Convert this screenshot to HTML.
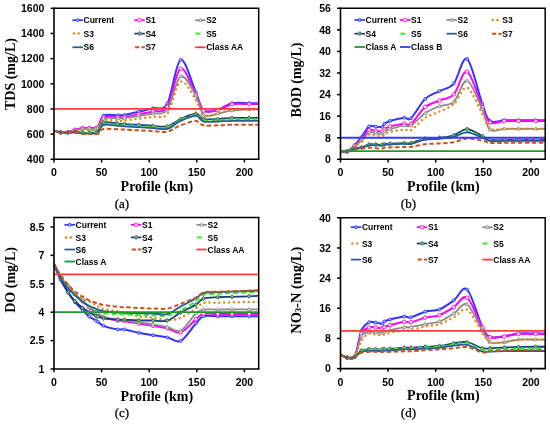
<!DOCTYPE html><html><head><meta charset="utf-8"><style>html,body{margin:0;padding:0;background:#fff;width:550px;height:424px;overflow:hidden}svg{display:block;filter:blur(0.3px)}</style></head><body>
<svg width="550" height="424" viewBox="0 0 550 424">
<rect width="550" height="424" fill="#fff"/>
<clipPath id="clipa"><rect x="54" y="8.3" width="204.7" height="151"/></clipPath>
<g clip-path="url(#clipa)">
<path d="M54,130.61 C55.11,130.9 58.28,132.08 60.66,132.37 C63.04,132.67 65.9,132.79 68.28,132.37 C70.66,131.95 72.57,130.55 74.95,129.86 C77.33,129.16 80.18,128.51 82.56,128.22 C84.94,127.93 87.01,128.11 89.23,128.09 C91.45,128.07 94.46,128.18 95.89,128.09 C97.32,128.01 96.53,129.65 97.8,127.59 C99.07,125.53 100.18,117.82 103.51,115.76 C106.84,113.71 114.3,115.38 117.79,115.26 C121.28,115.13 120.96,115.61 124.45,115.01 C127.95,114.4 133.98,112.72 138.74,111.61 C143.5,110.5 148.26,109.66 153.02,108.34 C157.78,107.02 162.7,111.76 167.3,103.68 C171.9,95.61 175.87,61.76 180.63,59.89 C185.39,58.03 192.05,84.09 195.86,92.48 C199.67,100.87 199.83,107.37 203.48,110.23 C207.13,113.08 213,110.75 217.76,109.6 C222.52,108.44 226.8,104.37 232.04,103.3 C237.28,102.23 244.74,103.2 249.18,103.18 C253.62,103.16 257.11,103.18 258.7,103.18" fill="none" stroke="#3333ff" stroke-width="2.0"/>
<circle cx="60.66" cy="132.37" r="1.45" fill="#a8c8f0" stroke="#3333ff" stroke-width="0.9"/>
<circle cx="68.28" cy="132.37" r="1.45" fill="#a8c8f0" stroke="#3333ff" stroke-width="0.9"/>
<circle cx="74.95" cy="129.86" r="1.45" fill="#a8c8f0" stroke="#3333ff" stroke-width="0.9"/>
<circle cx="82.56" cy="128.22" r="1.45" fill="#a8c8f0" stroke="#3333ff" stroke-width="0.9"/>
<circle cx="89.23" cy="128.09" r="1.45" fill="#a8c8f0" stroke="#3333ff" stroke-width="0.9"/>
<circle cx="95.89" cy="128.09" r="1.45" fill="#a8c8f0" stroke="#3333ff" stroke-width="0.9"/>
<circle cx="97.8" cy="127.59" r="1.45" fill="#a8c8f0" stroke="#3333ff" stroke-width="0.9"/>
<circle cx="103.51" cy="115.76" r="1.45" fill="#a8c8f0" stroke="#3333ff" stroke-width="0.9"/>
<circle cx="117.79" cy="115.26" r="1.45" fill="#a8c8f0" stroke="#3333ff" stroke-width="0.9"/>
<circle cx="124.45" cy="115.01" r="1.45" fill="#a8c8f0" stroke="#3333ff" stroke-width="0.9"/>
<circle cx="138.74" cy="111.61" r="1.45" fill="#a8c8f0" stroke="#3333ff" stroke-width="0.9"/>
<circle cx="153.02" cy="108.34" r="1.45" fill="#a8c8f0" stroke="#3333ff" stroke-width="0.9"/>
<circle cx="167.3" cy="103.68" r="1.45" fill="#a8c8f0" stroke="#3333ff" stroke-width="0.9"/>
<circle cx="180.63" cy="59.89" r="1.45" fill="#a8c8f0" stroke="#3333ff" stroke-width="0.9"/>
<circle cx="195.86" cy="92.48" r="1.45" fill="#a8c8f0" stroke="#3333ff" stroke-width="0.9"/>
<circle cx="203.48" cy="110.23" r="1.45" fill="#a8c8f0" stroke="#3333ff" stroke-width="0.9"/>
<circle cx="217.76" cy="109.6" r="1.45" fill="#a8c8f0" stroke="#3333ff" stroke-width="0.9"/>
<circle cx="232.04" cy="103.3" r="1.45" fill="#a8c8f0" stroke="#3333ff" stroke-width="0.9"/>
<circle cx="249.18" cy="103.18" r="1.45" fill="#a8c8f0" stroke="#3333ff" stroke-width="0.9"/>
<path d="M54,130.61 C55.11,130.9 58.28,132.1 60.66,132.37 C63.04,132.64 65.9,132.67 68.28,132.25 C70.66,131.83 72.57,130.53 74.95,129.86 C77.33,129.18 80.18,128.51 82.56,128.22 C84.94,127.93 87.01,128.11 89.23,128.09 C91.45,128.07 94.46,128.18 95.89,128.09 C97.32,128.01 96.53,129.37 97.8,127.59 C99.07,125.81 100.18,119.16 103.51,117.4 C106.84,115.64 114.3,117.08 117.79,117.02 C121.28,116.96 120.96,117.48 124.45,117.02 C127.95,116.56 133.98,115.2 138.74,114.25 C143.5,113.31 148.26,112.59 153.02,111.36 C157.78,110.12 162.7,113.94 167.3,106.83 C171.9,99.72 175.87,70.73 180.63,68.7 C185.39,66.67 192.05,87.62 195.86,94.62 C199.67,101.63 199.83,108.13 203.48,110.73 C207.13,113.33 213,111.32 217.76,110.23 C222.52,109.13 226.8,105.21 232.04,104.19 C237.28,103.16 244.74,104.08 249.18,104.06 C253.62,104.04 257.11,104.06 258.7,104.06" fill="none" stroke="#ff00ff" stroke-width="2.0"/>
<circle cx="60.66" cy="132.37" r="1.8" fill="#ffffb0" stroke="#ff00ff" stroke-width="0.9"/>
<circle cx="68.28" cy="132.25" r="1.8" fill="#ffffb0" stroke="#ff00ff" stroke-width="0.9"/>
<circle cx="74.95" cy="129.86" r="1.8" fill="#ffffb0" stroke="#ff00ff" stroke-width="0.9"/>
<circle cx="82.56" cy="128.22" r="1.8" fill="#ffffb0" stroke="#ff00ff" stroke-width="0.9"/>
<circle cx="89.23" cy="128.09" r="1.8" fill="#ffffb0" stroke="#ff00ff" stroke-width="0.9"/>
<circle cx="95.89" cy="128.09" r="1.8" fill="#ffffb0" stroke="#ff00ff" stroke-width="0.9"/>
<circle cx="97.8" cy="127.59" r="1.8" fill="#ffffb0" stroke="#ff00ff" stroke-width="0.9"/>
<circle cx="103.51" cy="117.4" r="1.8" fill="#ffffb0" stroke="#ff00ff" stroke-width="0.9"/>
<circle cx="117.79" cy="117.02" r="1.8" fill="#ffffb0" stroke="#ff00ff" stroke-width="0.9"/>
<circle cx="124.45" cy="117.02" r="1.8" fill="#ffffb0" stroke="#ff00ff" stroke-width="0.9"/>
<circle cx="138.74" cy="114.25" r="1.8" fill="#ffffb0" stroke="#ff00ff" stroke-width="0.9"/>
<circle cx="153.02" cy="111.36" r="1.8" fill="#ffffb0" stroke="#ff00ff" stroke-width="0.9"/>
<circle cx="167.3" cy="106.83" r="1.8" fill="#ffffb0" stroke="#ff00ff" stroke-width="0.9"/>
<circle cx="180.63" cy="68.7" r="1.8" fill="#ffffb0" stroke="#ff00ff" stroke-width="0.9"/>
<circle cx="195.86" cy="94.62" r="1.8" fill="#ffffb0" stroke="#ff00ff" stroke-width="0.9"/>
<circle cx="203.48" cy="110.73" r="1.8" fill="#ffffb0" stroke="#ff00ff" stroke-width="0.9"/>
<circle cx="217.76" cy="110.23" r="1.8" fill="#ffffb0" stroke="#ff00ff" stroke-width="0.9"/>
<circle cx="232.04" cy="104.19" r="1.8" fill="#ffffb0" stroke="#ff00ff" stroke-width="0.9"/>
<circle cx="249.18" cy="104.06" r="1.8" fill="#ffffb0" stroke="#ff00ff" stroke-width="0.9"/>
<path d="M54,130.61 C55.11,130.9 58.28,132.08 60.66,132.37 C63.04,132.67 65.9,132.67 68.28,132.37 C70.66,132.08 72.57,131.18 74.95,130.61 C77.33,130.04 80.18,129.25 82.56,128.97 C84.94,128.7 87.01,128.97 89.23,128.97 C91.45,128.97 94.46,129.06 95.89,128.97 C97.32,128.89 96.53,130.17 97.8,128.47 C99.07,126.77 100.18,120.5 103.51,118.78 C106.84,117.06 114.3,118.26 117.79,118.15 C121.28,118.05 120.96,118.53 124.45,118.15 C127.95,117.78 133.98,116.66 138.74,115.89 C143.5,115.11 148.26,114.52 153.02,113.5 C157.78,112.47 162.7,115.89 167.3,109.72 C171.9,103.56 175.87,78.85 180.63,76.5 C185.39,74.15 192.05,89.25 195.86,95.63 C199.67,102 199.83,111.74 203.48,114.76 C207.13,117.78 213,114.46 217.76,113.75 C222.52,113.04 226.8,111.19 232.04,110.48 C237.28,109.76 244.74,109.64 249.18,109.47 C253.62,109.3 257.11,109.47 258.7,109.47" fill="none" stroke="#8c8c8c" stroke-width="1.8"/>
<path d="M60.66,130.37 l1.9,3.2 h-3.8 z" fill="#e8e8e8" stroke="#8c8c8c" stroke-width="0.8"/>
<path d="M68.28,130.37 l1.9,3.2 h-3.8 z" fill="#e8e8e8" stroke="#8c8c8c" stroke-width="0.8"/>
<path d="M74.95,128.61 l1.9,3.2 h-3.8 z" fill="#e8e8e8" stroke="#8c8c8c" stroke-width="0.8"/>
<path d="M82.56,126.97 l1.9,3.2 h-3.8 z" fill="#e8e8e8" stroke="#8c8c8c" stroke-width="0.8"/>
<path d="M89.23,126.97 l1.9,3.2 h-3.8 z" fill="#e8e8e8" stroke="#8c8c8c" stroke-width="0.8"/>
<path d="M95.89,126.97 l1.9,3.2 h-3.8 z" fill="#e8e8e8" stroke="#8c8c8c" stroke-width="0.8"/>
<path d="M97.8,126.47 l1.9,3.2 h-3.8 z" fill="#e8e8e8" stroke="#8c8c8c" stroke-width="0.8"/>
<path d="M103.51,116.78 l1.9,3.2 h-3.8 z" fill="#e8e8e8" stroke="#8c8c8c" stroke-width="0.8"/>
<path d="M117.79,116.15 l1.9,3.2 h-3.8 z" fill="#e8e8e8" stroke="#8c8c8c" stroke-width="0.8"/>
<path d="M124.45,116.15 l1.9,3.2 h-3.8 z" fill="#e8e8e8" stroke="#8c8c8c" stroke-width="0.8"/>
<path d="M138.74,113.89 l1.9,3.2 h-3.8 z" fill="#e8e8e8" stroke="#8c8c8c" stroke-width="0.8"/>
<path d="M153.02,111.5 l1.9,3.2 h-3.8 z" fill="#e8e8e8" stroke="#8c8c8c" stroke-width="0.8"/>
<path d="M167.3,107.72 l1.9,3.2 h-3.8 z" fill="#e8e8e8" stroke="#8c8c8c" stroke-width="0.8"/>
<path d="M180.63,74.5 l1.9,3.2 h-3.8 z" fill="#e8e8e8" stroke="#8c8c8c" stroke-width="0.8"/>
<path d="M195.86,93.63 l1.9,3.2 h-3.8 z" fill="#e8e8e8" stroke="#8c8c8c" stroke-width="0.8"/>
<path d="M203.48,112.76 l1.9,3.2 h-3.8 z" fill="#e8e8e8" stroke="#8c8c8c" stroke-width="0.8"/>
<path d="M217.76,111.75 l1.9,3.2 h-3.8 z" fill="#e8e8e8" stroke="#8c8c8c" stroke-width="0.8"/>
<path d="M232.04,108.48 l1.9,3.2 h-3.8 z" fill="#e8e8e8" stroke="#8c8c8c" stroke-width="0.8"/>
<path d="M249.18,107.47 l1.9,3.2 h-3.8 z" fill="#e8e8e8" stroke="#8c8c8c" stroke-width="0.8"/>
<path d="M54,130.61 C55.11,130.9 58.28,132.06 60.66,132.37 C63.04,132.69 65.9,132.79 68.28,132.5 C70.66,132.2 72.57,131.01 74.95,130.61 C77.33,130.21 80.18,130.19 82.56,130.11 C84.94,130.02 87.01,130.09 89.23,130.11 C91.45,130.13 94.46,130.3 95.89,130.23 C97.32,130.17 96.53,131.39 97.8,129.73 C99.07,128.07 100.18,121.76 103.51,120.29 C106.84,118.82 114.3,120.88 117.79,120.92 C121.28,120.96 120.96,120.92 124.45,120.54 C127.95,120.17 133.98,119.29 138.74,118.66 C143.5,118.03 148.26,117.59 153.02,116.77 C157.78,115.95 162.7,119.58 167.3,113.75 C171.9,107.92 175.87,84.09 180.63,81.79 C185.39,79.48 192.05,94.24 195.86,99.91 C199.67,105.57 199.83,113.45 203.48,115.76 C207.13,118.07 213,114.8 217.76,113.75 C222.52,112.7 226.8,110.18 232.04,109.47 C237.28,108.76 244.74,109.47 249.18,109.47 C253.62,109.47 257.11,109.47 258.7,109.47" fill="none" stroke="#e08a1e" stroke-width="2.5" stroke-linecap="round" stroke-dasharray="0 4.9"/>
<path d="M54,130.61 C55.11,130.9 58.28,132.04 60.66,132.37 C63.04,132.71 65.9,132.75 68.28,132.62 C70.66,132.5 72.57,131.6 74.95,131.62 C77.33,131.64 80.18,132.56 82.56,132.75 C84.94,132.94 87.01,132.75 89.23,132.75 C91.45,132.75 94.46,132.83 95.89,132.75 C97.32,132.67 96.53,133.97 97.8,132.25 C99.07,130.53 100.18,123.86 103.51,122.43 C106.84,121 114.3,123.42 117.79,123.69 C121.28,123.96 120.96,123.88 124.45,124.07 C127.95,124.26 133.98,124.53 138.74,124.82 C143.5,125.12 148.26,125.58 153.02,125.83 C157.78,126.08 162.7,127.46 167.3,126.33 C171.9,125.2 175.87,121.13 180.63,119.03 C185.39,116.94 192.05,113.75 195.86,113.75 C199.67,113.75 199.83,118.15 203.48,119.03 C207.13,119.91 213,119.22 217.76,119.03 C222.52,118.84 226.8,118.09 232.04,117.9 C237.28,117.71 244.74,117.9 249.18,117.9 C253.62,117.9 257.11,117.9 258.7,117.9" fill="none" stroke="#1f3a80" stroke-width="1.8"/>
<path d="M60.66,130.27 l1.7,2.1 l-1.7,2.1 l-1.7,-2.1 z" fill="#9aaa9a" stroke="#2e6a3a" stroke-width="0.9"/>
<path d="M68.28,130.52 l1.7,2.1 l-1.7,2.1 l-1.7,-2.1 z" fill="#9aaa9a" stroke="#2e6a3a" stroke-width="0.9"/>
<path d="M74.95,129.52 l1.7,2.1 l-1.7,2.1 l-1.7,-2.1 z" fill="#9aaa9a" stroke="#2e6a3a" stroke-width="0.9"/>
<path d="M82.56,130.65 l1.7,2.1 l-1.7,2.1 l-1.7,-2.1 z" fill="#9aaa9a" stroke="#2e6a3a" stroke-width="0.9"/>
<path d="M89.23,130.65 l1.7,2.1 l-1.7,2.1 l-1.7,-2.1 z" fill="#9aaa9a" stroke="#2e6a3a" stroke-width="0.9"/>
<path d="M95.89,130.65 l1.7,2.1 l-1.7,2.1 l-1.7,-2.1 z" fill="#9aaa9a" stroke="#2e6a3a" stroke-width="0.9"/>
<path d="M97.8,130.15 l1.7,2.1 l-1.7,2.1 l-1.7,-2.1 z" fill="#9aaa9a" stroke="#2e6a3a" stroke-width="0.9"/>
<path d="M103.51,120.33 l1.7,2.1 l-1.7,2.1 l-1.7,-2.1 z" fill="#9aaa9a" stroke="#2e6a3a" stroke-width="0.9"/>
<path d="M117.79,121.59 l1.7,2.1 l-1.7,2.1 l-1.7,-2.1 z" fill="#9aaa9a" stroke="#2e6a3a" stroke-width="0.9"/>
<path d="M124.45,121.97 l1.7,2.1 l-1.7,2.1 l-1.7,-2.1 z" fill="#9aaa9a" stroke="#2e6a3a" stroke-width="0.9"/>
<path d="M138.74,122.72 l1.7,2.1 l-1.7,2.1 l-1.7,-2.1 z" fill="#9aaa9a" stroke="#2e6a3a" stroke-width="0.9"/>
<path d="M153.02,123.73 l1.7,2.1 l-1.7,2.1 l-1.7,-2.1 z" fill="#9aaa9a" stroke="#2e6a3a" stroke-width="0.9"/>
<path d="M167.3,124.23 l1.7,2.1 l-1.7,2.1 l-1.7,-2.1 z" fill="#9aaa9a" stroke="#2e6a3a" stroke-width="0.9"/>
<path d="M180.63,116.93 l1.7,2.1 l-1.7,2.1 l-1.7,-2.1 z" fill="#9aaa9a" stroke="#2e6a3a" stroke-width="0.9"/>
<path d="M195.86,111.65 l1.7,2.1 l-1.7,2.1 l-1.7,-2.1 z" fill="#9aaa9a" stroke="#2e6a3a" stroke-width="0.9"/>
<path d="M203.48,116.93 l1.7,2.1 l-1.7,2.1 l-1.7,-2.1 z" fill="#9aaa9a" stroke="#2e6a3a" stroke-width="0.9"/>
<path d="M217.76,116.93 l1.7,2.1 l-1.7,2.1 l-1.7,-2.1 z" fill="#9aaa9a" stroke="#2e6a3a" stroke-width="0.9"/>
<path d="M232.04,115.8 l1.7,2.1 l-1.7,2.1 l-1.7,-2.1 z" fill="#9aaa9a" stroke="#2e6a3a" stroke-width="0.9"/>
<path d="M249.18,115.8 l1.7,2.1 l-1.7,2.1 l-1.7,-2.1 z" fill="#9aaa9a" stroke="#2e6a3a" stroke-width="0.9"/>
<path d="M54,130.61 C55.11,130.9 58.28,132.04 60.66,132.37 C63.04,132.71 65.9,132.71 68.28,132.62 C70.66,132.54 72.57,131.81 74.95,131.87 C77.33,131.93 80.18,132.81 82.56,133 C84.94,133.19 87.01,133 89.23,133 C91.45,133 94.46,133.08 95.89,133 C97.32,132.92 96.53,133.99 97.8,132.5 C99.07,131.01 100.18,125.33 103.51,124.07 C106.84,122.81 114.3,124.74 117.79,124.95 C121.28,125.16 120.96,125.14 124.45,125.33 C127.95,125.51 133.98,125.79 138.74,126.08 C143.5,126.37 148.26,126.84 153.02,127.09 C157.78,127.34 162.7,128.76 167.3,127.59 C171.9,126.42 175.87,122.14 180.63,120.04 C185.39,117.94 192.05,114.96 195.86,115.01 C199.67,115.05 199.83,119.41 203.48,120.29 C207.13,121.17 213,120.46 217.76,120.29 C222.52,120.12 226.8,119.45 232.04,119.29 C237.28,119.12 244.74,119.29 249.18,119.29 C253.62,119.29 257.11,119.29 258.7,119.29" fill="none" stroke="#2ef02e" stroke-width="2" stroke-dasharray="5 3"/>
<path d="M54,130.61 C55.11,130.9 58.28,132.02 60.66,132.37 C63.04,132.73 65.9,132.77 68.28,132.75 C70.66,132.73 72.57,132.1 74.95,132.25 C77.33,132.39 80.18,133.4 82.56,133.63 C84.94,133.86 87.01,133.63 89.23,133.63 C91.45,133.63 94.46,133.67 95.89,133.63 C97.32,133.59 96.53,134.8 97.8,133.38 C99.07,131.95 100.18,126.31 103.51,125.07 C106.84,123.84 114.3,125.74 117.79,125.95 C121.28,126.16 120.96,126.14 124.45,126.33 C127.95,126.52 133.98,126.79 138.74,127.09 C143.5,127.38 148.26,127.8 153.02,128.09 C157.78,128.39 162.7,130.04 167.3,128.85 C171.9,127.65 175.87,123.08 180.63,120.92 C185.39,118.76 192.05,115.78 195.86,115.89 C199.67,115.99 199.83,120.61 203.48,121.55 C207.13,122.49 213,121.68 217.76,121.55 C222.52,121.42 226.8,120.92 232.04,120.8 C237.28,120.67 244.74,120.8 249.18,120.8 C253.62,120.8 257.11,120.8 258.7,120.8" fill="none" stroke="#2d5a96" stroke-width="1.8"/>
<path d="M54,130.61 C55.11,130.9 58.28,131.99 60.66,132.37 C63.04,132.75 65.9,132.83 68.28,132.88 C70.66,132.92 72.57,132.43 74.95,132.62 C77.33,132.81 80.18,133.78 82.56,134.01 C84.94,134.24 87.01,134.01 89.23,134.01 C91.45,134.01 94.46,134.05 95.89,134.01 C97.32,133.97 96.53,134.59 97.8,133.76 C99.07,132.92 100.18,129.71 103.51,128.97 C106.84,128.24 114.3,129.25 117.79,129.35 C121.28,129.46 120.96,129.44 124.45,129.6 C127.95,129.77 133.98,130.13 138.74,130.36 C143.5,130.59 148.26,130.78 153.02,130.99 C157.78,131.2 162.7,132.56 167.3,131.62 C171.9,130.67 175.87,127.09 180.63,125.33 C185.39,123.56 192.05,121.05 195.86,121.05 C199.67,121.05 199.83,124.61 203.48,125.33 C207.13,126.04 213,125.43 217.76,125.33 C222.52,125.22 226.8,124.8 232.04,124.7 C237.28,124.59 244.74,124.7 249.18,124.7 C253.62,124.7 257.11,124.7 258.7,124.7" fill="none" stroke="#c8561a" stroke-width="2" stroke-dasharray="4.4 2.5"/>
<line x1="54" y1="108.97" x2="258.7" y2="108.97" stroke="#ff3b3b" stroke-width="1.8"/>
</g>
<path d="M54,8.3 H258.7 V159.3" fill="none" stroke="#000" stroke-width="1.5"/>
<path d="M54,7.5 V159.3 H259.5" fill="none" stroke="#000" stroke-width="1.6"/>
<line x1="50.5" y1="159.3" x2="54" y2="159.3" stroke="#000" stroke-width="1.5"/>
<line x1="50.5" y1="134.13" x2="54" y2="134.13" stroke="#000" stroke-width="1.5"/>
<line x1="50.5" y1="108.97" x2="54" y2="108.97" stroke="#000" stroke-width="1.5"/>
<line x1="50.5" y1="83.8" x2="54" y2="83.8" stroke="#000" stroke-width="1.5"/>
<line x1="50.5" y1="58.63" x2="54" y2="58.63" stroke="#000" stroke-width="1.5"/>
<line x1="50.5" y1="33.47" x2="54" y2="33.47" stroke="#000" stroke-width="1.5"/>
<line x1="50.5" y1="8.3" x2="54" y2="8.3" stroke="#000" stroke-width="1.5"/>
<line x1="54" y1="159.3" x2="54" y2="162.5" stroke="#000" stroke-width="1.5"/>
<line x1="101.6" y1="159.3" x2="101.6" y2="162.5" stroke="#000" stroke-width="1.5"/>
<line x1="149.21" y1="159.3" x2="149.21" y2="162.5" stroke="#000" stroke-width="1.5"/>
<line x1="196.81" y1="159.3" x2="196.81" y2="162.5" stroke="#000" stroke-width="1.5"/>
<line x1="244.42" y1="159.3" x2="244.42" y2="162.5" stroke="#000" stroke-width="1.5"/>
<g font-family="Liberation Sans, sans-serif" font-weight="bold" font-size="10.5" fill="#000"><text x="44.4" y="163.1" text-anchor="end">400</text><text x="44.4" y="137.93" text-anchor="end">600</text><text x="44.4" y="112.77" text-anchor="end">800</text><text x="44.4" y="87.6" text-anchor="end">1000</text><text x="44.4" y="62.43" text-anchor="end">1200</text><text x="44.4" y="37.27" text-anchor="end">1400</text><text x="44.4" y="12.1" text-anchor="end">1600</text><text x="54" y="176.3" text-anchor="middle">0</text><text x="101.6" y="176.3" text-anchor="middle">50</text><text x="149.21" y="176.3" text-anchor="middle">100</text><text x="196.81" y="176.3" text-anchor="middle">150</text><text x="244.42" y="176.3" text-anchor="middle">200</text></g>
<text x="156.85" y="190.9" text-anchor="middle" font-family="Liberation Serif, serif" font-weight="bold" font-size="14">Profile (km)</text>
<text x="121.9" y="207.6" text-anchor="middle" font-family="Liberation Serif, serif" font-size="13" stroke="#000" stroke-width="0.25">(a)</text>
<text transform="translate(14.6,74.1) rotate(-90)" text-anchor="middle" font-family="Liberation Serif, serif" font-weight="bold" font-size="14">TDS (mg/L)</text>
<line x1="72.4" y1="20.2" x2="82.9" y2="20.2" stroke="#3333ff" stroke-width="1.7"/>
<circle cx="77.65" cy="20.2" r="1.45" fill="#a8c8f0" stroke="#3333ff" stroke-width="0.9"/>
<line x1="134.3" y1="20.2" x2="144.8" y2="20.2" stroke="#ff00ff" stroke-width="1.7"/>
<circle cx="139.55" cy="20.2" r="1.8" fill="#ffffb0" stroke="#ff00ff" stroke-width="0.9"/>
<line x1="195.1" y1="20.2" x2="205.6" y2="20.2" stroke="#8c8c8c" stroke-width="1.7"/>
<path d="M200.35,18.2 l1.9,3.2 h-3.8 z" fill="#e8e8e8" stroke="#8c8c8c" stroke-width="0.8"/>
<line x1="73.9" y1="33.6" x2="82.9" y2="33.6" stroke="#e08a1e" stroke-width="2.5" stroke-linecap="round" stroke-dasharray="0 4.8"/>
<line x1="134.3" y1="33.6" x2="144.8" y2="33.6" stroke="#1f3a80" stroke-width="1.7"/>
<path d="M139.55,31.5 l1.7,2.1 l-1.7,2.1 l-1.7,-2.1 z" fill="#9aaa9a" stroke="#2e6a3a" stroke-width="0.9"/>
<line x1="195.4" y1="33.6" x2="200.4" y2="33.6" stroke="#2ef02e" stroke-width="2"/>
<line x1="72.4" y1="47.3" x2="82.9" y2="47.3" stroke="#2d5a96" stroke-width="1.7"/>
<line x1="135.1" y1="47.3" x2="144.8" y2="47.3" stroke="#c8561a" stroke-width="2" stroke-dasharray="4.2 2.2"/>
<line x1="195.1" y1="47.3" x2="205.6" y2="47.3" stroke="#ff3b3b" stroke-width="1.8"/>
<g font-family="Liberation Sans, sans-serif" font-weight="bold" font-size="8.5" fill="#000"><text x="83.5" y="23.3">Current</text><text x="145.4" y="23.3">S1</text><text x="206.2" y="23.3">S2</text><text x="83.5" y="36.7">S3</text><text x="145.4" y="36.7">S4</text><text x="206.2" y="36.7">S5</text><text x="83.5" y="50.4">S6</text><text x="145.4" y="50.4">S7</text><text x="206.2" y="50.4">Class AA</text></g>
<clipPath id="clipb"><rect x="340.5" y="8.3" width="204.7" height="151"/></clipPath>
<g clip-path="url(#clipb)">
<path d="M340.5,151.48 C341.61,151.48 344.78,152.56 347.16,151.48 C349.54,150.4 352.4,147.39 354.78,145.01 C357.16,142.63 359.07,140.29 361.45,137.19 C363.83,134.09 366.68,128.16 369.06,126.4 C371.44,124.65 373.51,126.58 375.73,126.67 C377.95,126.76 380.96,127.39 382.39,126.94 C383.82,126.49 383.03,124.97 384.3,123.98 C385.57,122.99 386.68,122.04 390.01,121.01 C393.34,119.98 400.8,118.22 404.29,117.78 C407.78,117.33 407.46,121.46 410.95,118.31 C414.45,115.17 420.48,103.44 425.24,98.9 C430,94.36 434.76,93.64 439.52,91.08 C444.28,88.52 449.2,88.88 453.8,83.53 C458.4,78.18 462.37,55.58 467.13,58.99 C471.89,62.41 478.55,93.69 482.36,104.02 C486.17,114.36 486.33,118.31 489.98,121.01 C493.63,123.71 499.5,120.34 504.26,120.2 C509.02,120.07 513.3,120.2 518.54,120.2 C523.78,120.2 531.24,120.2 535.68,120.2 C540.12,120.2 543.61,120.2 545.2,120.2" fill="none" stroke="#3333ff" stroke-width="2.0"/>
<circle cx="347.16" cy="151.48" r="1.45" fill="#a8c8f0" stroke="#3333ff" stroke-width="0.9"/>
<circle cx="354.78" cy="145.01" r="1.45" fill="#a8c8f0" stroke="#3333ff" stroke-width="0.9"/>
<circle cx="361.45" cy="137.19" r="1.45" fill="#a8c8f0" stroke="#3333ff" stroke-width="0.9"/>
<circle cx="369.06" cy="126.4" r="1.45" fill="#a8c8f0" stroke="#3333ff" stroke-width="0.9"/>
<circle cx="375.73" cy="126.67" r="1.45" fill="#a8c8f0" stroke="#3333ff" stroke-width="0.9"/>
<circle cx="382.39" cy="126.94" r="1.45" fill="#a8c8f0" stroke="#3333ff" stroke-width="0.9"/>
<circle cx="384.3" cy="123.98" r="1.45" fill="#a8c8f0" stroke="#3333ff" stroke-width="0.9"/>
<circle cx="390.01" cy="121.01" r="1.45" fill="#a8c8f0" stroke="#3333ff" stroke-width="0.9"/>
<circle cx="404.29" cy="117.78" r="1.45" fill="#a8c8f0" stroke="#3333ff" stroke-width="0.9"/>
<circle cx="410.95" cy="118.31" r="1.45" fill="#a8c8f0" stroke="#3333ff" stroke-width="0.9"/>
<circle cx="425.24" cy="98.9" r="1.45" fill="#a8c8f0" stroke="#3333ff" stroke-width="0.9"/>
<circle cx="439.52" cy="91.08" r="1.45" fill="#a8c8f0" stroke="#3333ff" stroke-width="0.9"/>
<circle cx="453.8" cy="83.53" r="1.45" fill="#a8c8f0" stroke="#3333ff" stroke-width="0.9"/>
<circle cx="467.13" cy="58.99" r="1.45" fill="#a8c8f0" stroke="#3333ff" stroke-width="0.9"/>
<circle cx="482.36" cy="104.02" r="1.45" fill="#a8c8f0" stroke="#3333ff" stroke-width="0.9"/>
<circle cx="489.98" cy="121.01" r="1.45" fill="#a8c8f0" stroke="#3333ff" stroke-width="0.9"/>
<circle cx="504.26" cy="120.2" r="1.45" fill="#a8c8f0" stroke="#3333ff" stroke-width="0.9"/>
<circle cx="518.54" cy="120.2" r="1.45" fill="#a8c8f0" stroke="#3333ff" stroke-width="0.9"/>
<circle cx="535.68" cy="120.2" r="1.45" fill="#a8c8f0" stroke="#3333ff" stroke-width="0.9"/>
<path d="M340.5,151.48 C341.61,151.48 344.78,152.42 347.16,151.48 C349.54,150.54 352.4,147.93 354.78,145.82 C357.16,143.71 359.07,141.41 361.45,138.81 C363.83,136.2 366.68,131.53 369.06,130.18 C371.44,128.83 373.51,130.49 375.73,130.72 C377.95,130.94 380.96,131.75 382.39,131.53 C383.82,131.3 383.03,130.22 384.3,129.37 C385.57,128.52 386.68,127.35 390.01,126.4 C393.34,125.46 400.8,124.11 404.29,123.71 C407.78,123.3 407.46,126.76 410.95,123.98 C414.45,121.19 420.48,110.9 425.24,106.99 C430,103.08 434.76,102.63 439.52,100.52 C444.28,98.41 449.2,99.12 453.8,94.32 C458.4,89.51 462.37,69.51 467.13,71.67 C471.89,73.82 478.55,98.77 482.36,107.26 C486.17,115.75 486.33,120.34 489.98,122.63 C493.63,124.92 499.5,121.28 504.26,121.01 C509.02,120.74 513.3,121.01 518.54,121.01 C523.78,121.01 531.24,121.01 535.68,121.01 C540.12,121.01 543.61,121.01 545.2,121.01" fill="none" stroke="#ff00ff" stroke-width="2.0"/>
<circle cx="347.16" cy="151.48" r="1.8" fill="#ffffb0" stroke="#ff00ff" stroke-width="0.9"/>
<circle cx="354.78" cy="145.82" r="1.8" fill="#ffffb0" stroke="#ff00ff" stroke-width="0.9"/>
<circle cx="361.45" cy="138.81" r="1.8" fill="#ffffb0" stroke="#ff00ff" stroke-width="0.9"/>
<circle cx="369.06" cy="130.18" r="1.8" fill="#ffffb0" stroke="#ff00ff" stroke-width="0.9"/>
<circle cx="375.73" cy="130.72" r="1.8" fill="#ffffb0" stroke="#ff00ff" stroke-width="0.9"/>
<circle cx="382.39" cy="131.53" r="1.8" fill="#ffffb0" stroke="#ff00ff" stroke-width="0.9"/>
<circle cx="384.3" cy="129.37" r="1.8" fill="#ffffb0" stroke="#ff00ff" stroke-width="0.9"/>
<circle cx="390.01" cy="126.4" r="1.8" fill="#ffffb0" stroke="#ff00ff" stroke-width="0.9"/>
<circle cx="404.29" cy="123.71" r="1.8" fill="#ffffb0" stroke="#ff00ff" stroke-width="0.9"/>
<circle cx="410.95" cy="123.98" r="1.8" fill="#ffffb0" stroke="#ff00ff" stroke-width="0.9"/>
<circle cx="425.24" cy="106.99" r="1.8" fill="#ffffb0" stroke="#ff00ff" stroke-width="0.9"/>
<circle cx="439.52" cy="100.52" r="1.8" fill="#ffffb0" stroke="#ff00ff" stroke-width="0.9"/>
<circle cx="453.8" cy="94.32" r="1.8" fill="#ffffb0" stroke="#ff00ff" stroke-width="0.9"/>
<circle cx="467.13" cy="71.67" r="1.8" fill="#ffffb0" stroke="#ff00ff" stroke-width="0.9"/>
<circle cx="482.36" cy="107.26" r="1.8" fill="#ffffb0" stroke="#ff00ff" stroke-width="0.9"/>
<circle cx="489.98" cy="122.63" r="1.8" fill="#ffffb0" stroke="#ff00ff" stroke-width="0.9"/>
<circle cx="504.26" cy="121.01" r="1.8" fill="#ffffb0" stroke="#ff00ff" stroke-width="0.9"/>
<circle cx="518.54" cy="121.01" r="1.8" fill="#ffffb0" stroke="#ff00ff" stroke-width="0.9"/>
<circle cx="535.68" cy="121.01" r="1.8" fill="#ffffb0" stroke="#ff00ff" stroke-width="0.9"/>
<path d="M340.5,151.48 C341.61,151.48 344.78,152.33 347.16,151.48 C349.54,150.63 352.4,148.2 354.78,146.36 C357.16,144.51 359.07,142.72 361.45,140.43 C363.83,138.13 366.68,133.86 369.06,132.61 C371.44,131.35 373.51,132.7 375.73,132.88 C377.95,133.05 380.96,133.91 382.39,133.68 C383.82,133.46 383.03,132.29 384.3,131.53 C385.57,130.76 386.68,130.13 390.01,129.1 C393.34,128.07 400.8,125.91 404.29,125.33 C407.78,124.74 407.46,127.62 410.95,125.59 C414.45,123.57 420.48,116.43 425.24,113.19 C430,109.96 434.76,108.07 439.52,106.18 C444.28,104.29 449.2,106.09 453.8,101.87 C458.4,97.64 462.37,79.58 467.13,80.83 C471.89,82.09 478.55,101.28 482.36,109.42 C486.17,117.55 486.33,126.4 489.98,129.64 C493.63,132.88 499.5,128.97 504.26,128.83 C509.02,128.7 513.3,128.83 518.54,128.83 C523.78,128.83 531.24,128.83 535.68,128.83 C540.12,128.83 543.61,128.83 545.2,128.83" fill="none" stroke="#8c8c8c" stroke-width="1.8"/>
<path d="M347.16,149.48 l1.9,3.2 h-3.8 z" fill="#e8e8e8" stroke="#8c8c8c" stroke-width="0.8"/>
<path d="M354.78,144.36 l1.9,3.2 h-3.8 z" fill="#e8e8e8" stroke="#8c8c8c" stroke-width="0.8"/>
<path d="M361.45,138.43 l1.9,3.2 h-3.8 z" fill="#e8e8e8" stroke="#8c8c8c" stroke-width="0.8"/>
<path d="M369.06,130.61 l1.9,3.2 h-3.8 z" fill="#e8e8e8" stroke="#8c8c8c" stroke-width="0.8"/>
<path d="M375.73,130.88 l1.9,3.2 h-3.8 z" fill="#e8e8e8" stroke="#8c8c8c" stroke-width="0.8"/>
<path d="M382.39,131.68 l1.9,3.2 h-3.8 z" fill="#e8e8e8" stroke="#8c8c8c" stroke-width="0.8"/>
<path d="M384.3,129.53 l1.9,3.2 h-3.8 z" fill="#e8e8e8" stroke="#8c8c8c" stroke-width="0.8"/>
<path d="M390.01,127.1 l1.9,3.2 h-3.8 z" fill="#e8e8e8" stroke="#8c8c8c" stroke-width="0.8"/>
<path d="M404.29,123.33 l1.9,3.2 h-3.8 z" fill="#e8e8e8" stroke="#8c8c8c" stroke-width="0.8"/>
<path d="M410.95,123.59 l1.9,3.2 h-3.8 z" fill="#e8e8e8" stroke="#8c8c8c" stroke-width="0.8"/>
<path d="M425.24,111.19 l1.9,3.2 h-3.8 z" fill="#e8e8e8" stroke="#8c8c8c" stroke-width="0.8"/>
<path d="M439.52,104.18 l1.9,3.2 h-3.8 z" fill="#e8e8e8" stroke="#8c8c8c" stroke-width="0.8"/>
<path d="M453.8,99.87 l1.9,3.2 h-3.8 z" fill="#e8e8e8" stroke="#8c8c8c" stroke-width="0.8"/>
<path d="M467.13,78.83 l1.9,3.2 h-3.8 z" fill="#e8e8e8" stroke="#8c8c8c" stroke-width="0.8"/>
<path d="M482.36,107.42 l1.9,3.2 h-3.8 z" fill="#e8e8e8" stroke="#8c8c8c" stroke-width="0.8"/>
<path d="M489.98,127.64 l1.9,3.2 h-3.8 z" fill="#e8e8e8" stroke="#8c8c8c" stroke-width="0.8"/>
<path d="M504.26,126.83 l1.9,3.2 h-3.8 z" fill="#e8e8e8" stroke="#8c8c8c" stroke-width="0.8"/>
<path d="M518.54,126.83 l1.9,3.2 h-3.8 z" fill="#e8e8e8" stroke="#8c8c8c" stroke-width="0.8"/>
<path d="M535.68,126.83 l1.9,3.2 h-3.8 z" fill="#e8e8e8" stroke="#8c8c8c" stroke-width="0.8"/>
<path d="M340.5,151.48 C341.61,151.48 344.78,152.24 347.16,151.48 C349.54,150.72 352.4,148.51 354.78,146.9 C357.16,145.28 359.07,143.84 361.45,141.77 C363.83,139.71 366.68,135.57 369.06,134.49 C371.44,133.41 373.51,135.08 375.73,135.3 C377.95,135.53 380.96,135.98 382.39,135.84 C383.82,135.71 383.03,135.17 384.3,134.49 C385.57,133.82 386.68,132.61 390.01,131.8 C393.34,130.99 400.8,129.91 404.29,129.64 C407.78,129.37 407.46,132.16 410.95,130.18 C414.45,128.2 420.48,120.88 425.24,117.78 C430,114.67 434.76,113.87 439.52,111.57 C444.28,109.28 449.2,107.98 453.8,104.02 C458.4,100.07 462.37,86.23 467.13,87.84 C471.89,89.46 478.55,106.94 482.36,113.73 C486.17,120.52 486.33,126.04 489.98,128.56 C493.63,131.08 499.5,128.79 504.26,128.83 C509.02,128.88 513.3,128.83 518.54,128.83 C523.78,128.83 531.24,128.83 535.68,128.83 C540.12,128.83 543.61,128.83 545.2,128.83" fill="none" stroke="#e08a1e" stroke-width="2.5" stroke-linecap="round" stroke-dasharray="0 4.9"/>
<path d="M340.5,151.48 C341.61,151.48 344.78,151.97 347.16,151.48 C349.54,150.99 352.4,149.19 354.78,148.51 C357.16,147.84 359.07,148.11 361.45,147.44 C363.83,146.76 366.68,144.96 369.06,144.47 C371.44,143.98 373.51,144.42 375.73,144.47 C377.95,144.51 380.96,144.78 382.39,144.74 C383.82,144.69 383.03,144.38 384.3,144.2 C385.57,144.02 386.68,143.84 390.01,143.66 C393.34,143.48 400.8,143.21 404.29,143.12 C407.78,143.03 407.46,143.89 410.95,143.12 C414.45,142.36 420.48,139.44 425.24,138.54 C430,137.64 434.76,138.27 439.52,137.73 C444.28,137.19 449.2,136.74 453.8,135.3 C458.4,133.86 462.37,128.97 467.13,129.1 C471.89,129.23 478.55,134.31 482.36,136.11 C486.17,137.91 486.33,139.26 489.98,139.89 C493.63,140.51 499.5,139.89 504.26,139.89 C509.02,139.89 513.3,139.89 518.54,139.89 C523.78,139.89 531.24,139.89 535.68,139.89 C540.12,139.89 543.61,139.89 545.2,139.89" fill="none" stroke="#1f3a80" stroke-width="1.8"/>
<path d="M347.16,149.38 l1.7,2.1 l-1.7,2.1 l-1.7,-2.1 z" fill="#9aaa9a" stroke="#2e6a3a" stroke-width="0.9"/>
<path d="M354.78,146.41 l1.7,2.1 l-1.7,2.1 l-1.7,-2.1 z" fill="#9aaa9a" stroke="#2e6a3a" stroke-width="0.9"/>
<path d="M361.45,145.34 l1.7,2.1 l-1.7,2.1 l-1.7,-2.1 z" fill="#9aaa9a" stroke="#2e6a3a" stroke-width="0.9"/>
<path d="M369.06,142.37 l1.7,2.1 l-1.7,2.1 l-1.7,-2.1 z" fill="#9aaa9a" stroke="#2e6a3a" stroke-width="0.9"/>
<path d="M375.73,142.37 l1.7,2.1 l-1.7,2.1 l-1.7,-2.1 z" fill="#9aaa9a" stroke="#2e6a3a" stroke-width="0.9"/>
<path d="M382.39,142.64 l1.7,2.1 l-1.7,2.1 l-1.7,-2.1 z" fill="#9aaa9a" stroke="#2e6a3a" stroke-width="0.9"/>
<path d="M384.3,142.1 l1.7,2.1 l-1.7,2.1 l-1.7,-2.1 z" fill="#9aaa9a" stroke="#2e6a3a" stroke-width="0.9"/>
<path d="M390.01,141.56 l1.7,2.1 l-1.7,2.1 l-1.7,-2.1 z" fill="#9aaa9a" stroke="#2e6a3a" stroke-width="0.9"/>
<path d="M404.29,141.02 l1.7,2.1 l-1.7,2.1 l-1.7,-2.1 z" fill="#9aaa9a" stroke="#2e6a3a" stroke-width="0.9"/>
<path d="M410.95,141.02 l1.7,2.1 l-1.7,2.1 l-1.7,-2.1 z" fill="#9aaa9a" stroke="#2e6a3a" stroke-width="0.9"/>
<path d="M425.24,136.44 l1.7,2.1 l-1.7,2.1 l-1.7,-2.1 z" fill="#9aaa9a" stroke="#2e6a3a" stroke-width="0.9"/>
<path d="M439.52,135.63 l1.7,2.1 l-1.7,2.1 l-1.7,-2.1 z" fill="#9aaa9a" stroke="#2e6a3a" stroke-width="0.9"/>
<path d="M453.8,133.2 l1.7,2.1 l-1.7,2.1 l-1.7,-2.1 z" fill="#9aaa9a" stroke="#2e6a3a" stroke-width="0.9"/>
<path d="M467.13,127 l1.7,2.1 l-1.7,2.1 l-1.7,-2.1 z" fill="#9aaa9a" stroke="#2e6a3a" stroke-width="0.9"/>
<path d="M482.36,134.01 l1.7,2.1 l-1.7,2.1 l-1.7,-2.1 z" fill="#9aaa9a" stroke="#2e6a3a" stroke-width="0.9"/>
<path d="M489.98,137.79 l1.7,2.1 l-1.7,2.1 l-1.7,-2.1 z" fill="#9aaa9a" stroke="#2e6a3a" stroke-width="0.9"/>
<path d="M504.26,137.79 l1.7,2.1 l-1.7,2.1 l-1.7,-2.1 z" fill="#9aaa9a" stroke="#2e6a3a" stroke-width="0.9"/>
<path d="M518.54,137.79 l1.7,2.1 l-1.7,2.1 l-1.7,-2.1 z" fill="#9aaa9a" stroke="#2e6a3a" stroke-width="0.9"/>
<path d="M535.68,137.79 l1.7,2.1 l-1.7,2.1 l-1.7,-2.1 z" fill="#9aaa9a" stroke="#2e6a3a" stroke-width="0.9"/>
<path d="M340.5,151.48 C341.61,151.48 344.78,151.93 347.16,151.48 C349.54,151.03 352.4,149.41 354.78,148.78 C357.16,148.15 359.07,148.33 361.45,147.71 C363.83,147.08 366.68,145.46 369.06,145.01 C371.44,144.56 373.51,144.96 375.73,145.01 C377.95,145.05 380.96,145.32 382.39,145.28 C383.82,145.23 383.03,144.92 384.3,144.74 C385.57,144.56 386.68,144.38 390.01,144.2 C393.34,144.02 400.8,143.75 404.29,143.66 C407.78,143.57 407.46,144.42 410.95,143.66 C414.45,142.9 420.48,139.98 425.24,139.08 C430,138.18 434.76,138.72 439.52,138.27 C444.28,137.82 449.2,137.5 453.8,136.38 C458.4,135.26 462.37,131.44 467.13,131.53 C471.89,131.62 478.55,135.44 482.36,136.92 C486.17,138.4 486.33,139.84 489.98,140.43 C493.63,141.01 499.5,140.43 504.26,140.43 C509.02,140.43 513.3,140.43 518.54,140.43 C523.78,140.43 531.24,140.43 535.68,140.43 C540.12,140.43 543.61,140.43 545.2,140.43" fill="none" stroke="#2ef02e" stroke-width="2" stroke-dasharray="5 3"/>
<path d="M340.5,151.48 C341.61,151.48 344.78,151.93 347.16,151.48 C349.54,151.03 352.4,149.41 354.78,148.78 C357.16,148.15 359.07,148.29 361.45,147.71 C363.83,147.12 366.68,145.68 369.06,145.28 C371.44,144.87 373.51,145.23 375.73,145.28 C377.95,145.32 380.96,145.59 382.39,145.55 C383.82,145.5 383.03,145.19 384.3,145.01 C385.57,144.83 386.68,144.65 390.01,144.47 C393.34,144.29 400.8,144.02 404.29,143.93 C407.78,143.84 407.46,144.65 410.95,143.93 C414.45,143.21 420.48,140.47 425.24,139.62 C430,138.76 434.76,139.26 439.52,138.81 C444.28,138.36 449.2,138 453.8,136.92 C458.4,135.84 462.37,132.2 467.13,132.34 C471.89,132.47 478.55,136.29 482.36,137.73 C486.17,139.17 486.33,140.43 489.98,140.96 C493.63,141.5 499.5,140.96 504.26,140.96 C509.02,140.96 513.3,140.96 518.54,140.96 C523.78,140.96 531.24,140.96 535.68,140.96 C540.12,140.96 543.61,140.96 545.2,140.96" fill="none" stroke="#2d5a96" stroke-width="1.8"/>
<path d="M340.5,151.48 C341.61,151.48 344.78,151.79 347.16,151.48 C349.54,151.17 352.4,150.04 354.78,149.59 C357.16,149.14 359.07,149.1 361.45,148.78 C363.83,148.47 366.68,147.8 369.06,147.71 C371.44,147.62 373.51,148.11 375.73,148.24 C377.95,148.38 380.96,148.6 382.39,148.51 C383.82,148.42 383.03,147.89 384.3,147.71 C385.57,147.53 386.68,147.57 390.01,147.44 C393.34,147.3 400.8,146.99 404.29,146.9 C407.78,146.81 407.46,147.35 410.95,146.9 C414.45,146.45 420.48,144.78 425.24,144.2 C430,143.62 434.76,143.71 439.52,143.39 C444.28,143.08 449.2,143.12 453.8,142.31 C458.4,141.5 462.37,138.81 467.13,138.54 C471.89,138.27 478.55,139.98 482.36,140.69 C486.17,141.41 486.33,142.49 489.98,142.85 C493.63,143.21 499.5,142.85 504.26,142.85 C509.02,142.85 513.3,142.85 518.54,142.85 C523.78,142.85 531.24,142.85 535.68,142.85 C540.12,142.85 543.61,142.85 545.2,142.85" fill="none" stroke="#c8561a" stroke-width="2" stroke-dasharray="4.4 2.5"/>
<line x1="340.5" y1="151.21" x2="545.2" y2="151.21" stroke="#1f9a2a" stroke-width="1.8"/>
<line x1="340.5" y1="137.73" x2="545.2" y2="137.73" stroke="#3a3aff" stroke-width="1.8"/>
</g>
<path d="M340.5,8.3 H545.2 V159.3" fill="none" stroke="#000" stroke-width="1.5"/>
<path d="M340.5,7.5 V159.3 H546" fill="none" stroke="#000" stroke-width="1.6"/>
<line x1="337" y1="159.3" x2="340.5" y2="159.3" stroke="#000" stroke-width="1.5"/>
<line x1="337" y1="137.73" x2="340.5" y2="137.73" stroke="#000" stroke-width="1.5"/>
<line x1="337" y1="116.16" x2="340.5" y2="116.16" stroke="#000" stroke-width="1.5"/>
<line x1="337" y1="94.59" x2="340.5" y2="94.59" stroke="#000" stroke-width="1.5"/>
<line x1="337" y1="73.01" x2="340.5" y2="73.01" stroke="#000" stroke-width="1.5"/>
<line x1="337" y1="51.44" x2="340.5" y2="51.44" stroke="#000" stroke-width="1.5"/>
<line x1="337" y1="29.87" x2="340.5" y2="29.87" stroke="#000" stroke-width="1.5"/>
<line x1="337" y1="8.3" x2="340.5" y2="8.3" stroke="#000" stroke-width="1.5"/>
<line x1="340.5" y1="159.3" x2="340.5" y2="162.5" stroke="#000" stroke-width="1.5"/>
<line x1="388.1" y1="159.3" x2="388.1" y2="162.5" stroke="#000" stroke-width="1.5"/>
<line x1="435.71" y1="159.3" x2="435.71" y2="162.5" stroke="#000" stroke-width="1.5"/>
<line x1="483.31" y1="159.3" x2="483.31" y2="162.5" stroke="#000" stroke-width="1.5"/>
<line x1="530.92" y1="159.3" x2="530.92" y2="162.5" stroke="#000" stroke-width="1.5"/>
<g font-family="Liberation Sans, sans-serif" font-weight="bold" font-size="10.5" fill="#000"><text x="330.9" y="163.1" text-anchor="end">0</text><text x="330.9" y="141.53" text-anchor="end">8</text><text x="330.9" y="119.96" text-anchor="end">16</text><text x="330.9" y="98.39" text-anchor="end">24</text><text x="330.9" y="76.81" text-anchor="end">32</text><text x="330.9" y="55.24" text-anchor="end">40</text><text x="330.9" y="33.67" text-anchor="end">48</text><text x="330.9" y="12.1" text-anchor="end">56</text><text x="340.5" y="176.3" text-anchor="middle">0</text><text x="388.1" y="176.3" text-anchor="middle">50</text><text x="435.71" y="176.3" text-anchor="middle">100</text><text x="483.31" y="176.3" text-anchor="middle">150</text><text x="530.92" y="176.3" text-anchor="middle">200</text></g>
<text x="443.35" y="190.9" text-anchor="middle" font-family="Liberation Serif, serif" font-weight="bold" font-size="14">Profile (km)</text>
<text x="408.4" y="207.6" text-anchor="middle" font-family="Liberation Serif, serif" font-size="13" stroke="#000" stroke-width="0.25">(b)</text>
<text transform="translate(301.1,80.05) rotate(-90)" text-anchor="middle" font-family="Liberation Serif, serif" font-weight="bold" font-size="14">BOD (mg/L)</text>
<line x1="354.5" y1="19.9" x2="365" y2="19.9" stroke="#3333ff" stroke-width="1.7"/>
<circle cx="359.75" cy="19.9" r="1.45" fill="#a8c8f0" stroke="#3333ff" stroke-width="0.9"/>
<line x1="400" y1="19.9" x2="410.5" y2="19.9" stroke="#ff00ff" stroke-width="1.7"/>
<circle cx="405.25" cy="19.9" r="1.8" fill="#ffffb0" stroke="#ff00ff" stroke-width="0.9"/>
<line x1="446.4" y1="19.9" x2="456.9" y2="19.9" stroke="#8c8c8c" stroke-width="1.7"/>
<path d="M451.65,17.9 l1.9,3.2 h-3.8 z" fill="#e8e8e8" stroke="#8c8c8c" stroke-width="0.8"/>
<line x1="492.7" y1="19.9" x2="501.7" y2="19.9" stroke="#e08a1e" stroke-width="2.5" stroke-linecap="round" stroke-dasharray="0 4.8"/>
<line x1="354.5" y1="33.7" x2="365" y2="33.7" stroke="#1f3a80" stroke-width="1.7"/>
<path d="M359.75,31.6 l1.7,2.1 l-1.7,2.1 l-1.7,-2.1 z" fill="#9aaa9a" stroke="#2e6a3a" stroke-width="0.9"/>
<line x1="400.3" y1="33.7" x2="405.3" y2="33.7" stroke="#2ef02e" stroke-width="2"/>
<line x1="446.4" y1="33.7" x2="456.9" y2="33.7" stroke="#2d5a96" stroke-width="1.7"/>
<line x1="492" y1="33.7" x2="501.7" y2="33.7" stroke="#c8561a" stroke-width="2" stroke-dasharray="4.2 2.2"/>
<line x1="354.5" y1="47" x2="365" y2="47" stroke="#1f9a2a" stroke-width="1.8"/>
<line x1="400" y1="47" x2="410.5" y2="47" stroke="#3a3aff" stroke-width="1.8"/>
<g font-family="Liberation Sans, sans-serif" font-weight="bold" font-size="8.5" fill="#000"><text x="365.6" y="23">Current</text><text x="411.1" y="23">S1</text><text x="457.5" y="23">S2</text><text x="502.3" y="23">S3</text><text x="365.6" y="36.8">S4</text><text x="411.1" y="36.8">S5</text><text x="457.5" y="36.8">S6</text><text x="502.3" y="36.8">S7</text><text x="365.6" y="50.1">Class A</text><text x="411.1" y="50.1">Class B</text></g>
<clipPath id="clipc"><rect x="54" y="217.5" width="204.7" height="151.5"/></clipPath>
<g clip-path="url(#clipc)">
<path d="M54,263.9 C55.11,266.55 58.28,275.01 60.66,279.8 C63.04,284.6 65.9,288.96 68.28,292.68 C70.66,296.41 72.57,299.28 74.95,302.15 C77.33,305.02 80.18,307.52 82.56,309.92 C84.94,312.31 87.01,314.78 89.23,316.54 C91.45,318.31 94.46,319.67 95.89,320.52 C97.32,321.37 96.53,320.77 97.8,321.66 C99.07,322.54 100.18,324.53 103.51,325.82 C106.84,327.12 114.3,328.82 117.79,329.42 C121.28,330.02 120.96,328.85 124.45,329.42 C127.95,329.99 133.98,331.85 138.74,332.83 C143.5,333.81 148.26,334.53 153.02,335.29 C157.78,336.05 162.7,336.43 167.3,337.37 C171.9,338.32 175.87,343.28 180.63,340.97 C185.39,338.67 192.05,327.65 195.86,323.55 C199.67,319.45 199.83,317.55 203.48,316.35 C207.13,315.15 213,316.35 217.76,316.35 C222.52,316.35 226.8,316.35 232.04,316.35 C237.28,316.35 244.74,316.35 249.18,316.35 C253.62,316.35 257.11,316.35 258.7,316.35" fill="none" stroke="#3333ff" stroke-width="2.0"/>
<circle cx="60.66" cy="279.8" r="1.45" fill="#a8c8f0" stroke="#3333ff" stroke-width="0.9"/>
<circle cx="68.28" cy="292.68" r="1.45" fill="#a8c8f0" stroke="#3333ff" stroke-width="0.9"/>
<circle cx="74.95" cy="302.15" r="1.45" fill="#a8c8f0" stroke="#3333ff" stroke-width="0.9"/>
<circle cx="82.56" cy="309.92" r="1.45" fill="#a8c8f0" stroke="#3333ff" stroke-width="0.9"/>
<circle cx="89.23" cy="316.54" r="1.45" fill="#a8c8f0" stroke="#3333ff" stroke-width="0.9"/>
<circle cx="95.89" cy="320.52" r="1.45" fill="#a8c8f0" stroke="#3333ff" stroke-width="0.9"/>
<circle cx="97.8" cy="321.66" r="1.45" fill="#a8c8f0" stroke="#3333ff" stroke-width="0.9"/>
<circle cx="103.51" cy="325.82" r="1.45" fill="#a8c8f0" stroke="#3333ff" stroke-width="0.9"/>
<circle cx="117.79" cy="329.42" r="1.45" fill="#a8c8f0" stroke="#3333ff" stroke-width="0.9"/>
<circle cx="124.45" cy="329.42" r="1.45" fill="#a8c8f0" stroke="#3333ff" stroke-width="0.9"/>
<circle cx="138.74" cy="332.83" r="1.45" fill="#a8c8f0" stroke="#3333ff" stroke-width="0.9"/>
<circle cx="153.02" cy="335.29" r="1.45" fill="#a8c8f0" stroke="#3333ff" stroke-width="0.9"/>
<circle cx="167.3" cy="337.37" r="1.45" fill="#a8c8f0" stroke="#3333ff" stroke-width="0.9"/>
<circle cx="180.63" cy="340.97" r="1.45" fill="#a8c8f0" stroke="#3333ff" stroke-width="0.9"/>
<circle cx="195.86" cy="323.55" r="1.45" fill="#a8c8f0" stroke="#3333ff" stroke-width="0.9"/>
<circle cx="203.48" cy="316.35" r="1.45" fill="#a8c8f0" stroke="#3333ff" stroke-width="0.9"/>
<circle cx="217.76" cy="316.35" r="1.45" fill="#a8c8f0" stroke="#3333ff" stroke-width="0.9"/>
<circle cx="232.04" cy="316.35" r="1.45" fill="#a8c8f0" stroke="#3333ff" stroke-width="0.9"/>
<circle cx="249.18" cy="316.35" r="1.45" fill="#a8c8f0" stroke="#3333ff" stroke-width="0.9"/>
<path d="M54,263.9 C55.11,266.11 58.28,273.37 60.66,277.15 C63.04,280.94 65.9,283.78 68.28,286.62 C70.66,289.46 72.57,291.77 74.95,294.2 C77.33,296.63 80.18,298.99 82.56,301.2 C84.94,303.41 87.01,305.56 89.23,307.45 C91.45,309.35 94.46,311.46 95.89,312.57 C97.32,313.67 96.53,313.26 97.8,314.08 C99.07,314.9 100.18,316.42 103.51,317.49 C106.84,318.56 114.3,319.95 117.79,320.52 C121.28,321.09 120.96,320.39 124.45,320.9 C127.95,321.4 133.98,322.73 138.74,323.55 C143.5,324.37 148.26,325.03 153.02,325.82 C157.78,326.61 162.7,327.18 167.3,328.28 C171.9,329.39 175.87,333.93 180.63,332.45 C185.39,330.97 192.05,322.51 195.86,319.38 C199.67,316.26 199.83,314.59 203.48,313.7 C207.13,312.82 213,314.02 217.76,314.08 C222.52,314.14 226.8,314.08 232.04,314.08 C237.28,314.08 244.74,314.08 249.18,314.08 C253.62,314.08 257.11,314.08 258.7,314.08" fill="none" stroke="#ff00ff" stroke-width="2.0"/>
<circle cx="60.66" cy="277.15" r="1.8" fill="#ffffb0" stroke="#ff00ff" stroke-width="0.9"/>
<circle cx="68.28" cy="286.62" r="1.8" fill="#ffffb0" stroke="#ff00ff" stroke-width="0.9"/>
<circle cx="74.95" cy="294.2" r="1.8" fill="#ffffb0" stroke="#ff00ff" stroke-width="0.9"/>
<circle cx="82.56" cy="301.2" r="1.8" fill="#ffffb0" stroke="#ff00ff" stroke-width="0.9"/>
<circle cx="89.23" cy="307.45" r="1.8" fill="#ffffb0" stroke="#ff00ff" stroke-width="0.9"/>
<circle cx="95.89" cy="312.57" r="1.8" fill="#ffffb0" stroke="#ff00ff" stroke-width="0.9"/>
<circle cx="97.8" cy="314.08" r="1.8" fill="#ffffb0" stroke="#ff00ff" stroke-width="0.9"/>
<circle cx="103.51" cy="317.49" r="1.8" fill="#ffffb0" stroke="#ff00ff" stroke-width="0.9"/>
<circle cx="117.79" cy="320.52" r="1.8" fill="#ffffb0" stroke="#ff00ff" stroke-width="0.9"/>
<circle cx="124.45" cy="320.9" r="1.8" fill="#ffffb0" stroke="#ff00ff" stroke-width="0.9"/>
<circle cx="138.74" cy="323.55" r="1.8" fill="#ffffb0" stroke="#ff00ff" stroke-width="0.9"/>
<circle cx="153.02" cy="325.82" r="1.8" fill="#ffffb0" stroke="#ff00ff" stroke-width="0.9"/>
<circle cx="167.3" cy="328.28" r="1.8" fill="#ffffb0" stroke="#ff00ff" stroke-width="0.9"/>
<circle cx="180.63" cy="332.45" r="1.8" fill="#ffffb0" stroke="#ff00ff" stroke-width="0.9"/>
<circle cx="195.86" cy="319.38" r="1.8" fill="#ffffb0" stroke="#ff00ff" stroke-width="0.9"/>
<circle cx="203.48" cy="313.7" r="1.8" fill="#ffffb0" stroke="#ff00ff" stroke-width="0.9"/>
<circle cx="217.76" cy="314.08" r="1.8" fill="#ffffb0" stroke="#ff00ff" stroke-width="0.9"/>
<circle cx="232.04" cy="314.08" r="1.8" fill="#ffffb0" stroke="#ff00ff" stroke-width="0.9"/>
<circle cx="249.18" cy="314.08" r="1.8" fill="#ffffb0" stroke="#ff00ff" stroke-width="0.9"/>
<path d="M54,263.9 C55.11,266.11 58.28,273.37 60.66,277.15 C63.04,280.94 65.9,283.78 68.28,286.62 C70.66,289.46 72.57,291.83 74.95,294.2 C77.33,296.56 80.18,298.71 82.56,300.82 C84.94,302.94 87.01,305.05 89.23,306.88 C91.45,308.72 94.46,310.74 95.89,311.81 C97.32,312.88 96.53,312.5 97.8,313.32 C99.07,314.14 100.18,315.66 103.51,316.73 C106.84,317.81 114.3,319.19 117.79,319.76 C121.28,320.33 120.96,319.7 124.45,320.14 C127.95,320.58 133.98,321.72 138.74,322.41 C143.5,323.11 148.26,323.55 153.02,324.31 C157.78,325.06 162.7,325.89 167.3,326.96 C171.9,328.03 175.87,332.99 180.63,330.75 C185.39,328.51 192.05,317.05 195.86,313.51 C199.67,309.98 199.83,310.2 203.48,309.54 C207.13,308.87 213,309.57 217.76,309.54 C222.52,309.5 226.8,309.38 232.04,309.35 C237.28,309.32 244.74,309.35 249.18,309.35 C253.62,309.35 257.11,309.35 258.7,309.35" fill="none" stroke="#8c8c8c" stroke-width="1.8"/>
<path d="M60.66,275.15 l1.9,3.2 h-3.8 z" fill="#e8e8e8" stroke="#8c8c8c" stroke-width="0.8"/>
<path d="M68.28,284.62 l1.9,3.2 h-3.8 z" fill="#e8e8e8" stroke="#8c8c8c" stroke-width="0.8"/>
<path d="M74.95,292.2 l1.9,3.2 h-3.8 z" fill="#e8e8e8" stroke="#8c8c8c" stroke-width="0.8"/>
<path d="M82.56,298.82 l1.9,3.2 h-3.8 z" fill="#e8e8e8" stroke="#8c8c8c" stroke-width="0.8"/>
<path d="M89.23,304.88 l1.9,3.2 h-3.8 z" fill="#e8e8e8" stroke="#8c8c8c" stroke-width="0.8"/>
<path d="M95.89,309.81 l1.9,3.2 h-3.8 z" fill="#e8e8e8" stroke="#8c8c8c" stroke-width="0.8"/>
<path d="M97.8,311.32 l1.9,3.2 h-3.8 z" fill="#e8e8e8" stroke="#8c8c8c" stroke-width="0.8"/>
<path d="M103.51,314.73 l1.9,3.2 h-3.8 z" fill="#e8e8e8" stroke="#8c8c8c" stroke-width="0.8"/>
<path d="M117.79,317.76 l1.9,3.2 h-3.8 z" fill="#e8e8e8" stroke="#8c8c8c" stroke-width="0.8"/>
<path d="M124.45,318.14 l1.9,3.2 h-3.8 z" fill="#e8e8e8" stroke="#8c8c8c" stroke-width="0.8"/>
<path d="M138.74,320.41 l1.9,3.2 h-3.8 z" fill="#e8e8e8" stroke="#8c8c8c" stroke-width="0.8"/>
<path d="M153.02,322.31 l1.9,3.2 h-3.8 z" fill="#e8e8e8" stroke="#8c8c8c" stroke-width="0.8"/>
<path d="M167.3,324.96 l1.9,3.2 h-3.8 z" fill="#e8e8e8" stroke="#8c8c8c" stroke-width="0.8"/>
<path d="M180.63,328.75 l1.9,3.2 h-3.8 z" fill="#e8e8e8" stroke="#8c8c8c" stroke-width="0.8"/>
<path d="M195.86,311.51 l1.9,3.2 h-3.8 z" fill="#e8e8e8" stroke="#8c8c8c" stroke-width="0.8"/>
<path d="M203.48,307.54 l1.9,3.2 h-3.8 z" fill="#e8e8e8" stroke="#8c8c8c" stroke-width="0.8"/>
<path d="M217.76,307.54 l1.9,3.2 h-3.8 z" fill="#e8e8e8" stroke="#8c8c8c" stroke-width="0.8"/>
<path d="M232.04,307.35 l1.9,3.2 h-3.8 z" fill="#e8e8e8" stroke="#8c8c8c" stroke-width="0.8"/>
<path d="M249.18,307.35 l1.9,3.2 h-3.8 z" fill="#e8e8e8" stroke="#8c8c8c" stroke-width="0.8"/>
<path d="M54,263.9 C55.11,266.11 58.28,273.21 60.66,277.15 C63.04,281.1 65.9,284.73 68.28,287.57 C70.66,290.41 72.57,292.37 74.95,294.2 C77.33,296.03 80.18,297.29 82.56,298.55 C84.94,299.81 87.01,300.67 89.23,301.77 C91.45,302.88 94.46,304.39 95.89,305.18 C97.32,305.97 96.53,305.88 97.8,306.51 C99.07,307.14 100.18,308.18 103.51,308.97 C106.84,309.76 114.3,310.64 117.79,311.24 C121.28,311.84 120.96,311.71 124.45,312.57 C127.95,313.42 133.98,315.5 138.74,316.35 C143.5,317.21 148.26,317.05 153.02,317.68 C157.78,318.31 162.7,320.14 167.3,320.14 C171.9,320.14 175.87,319.6 180.63,317.68 C185.39,315.75 192.05,311.05 195.86,308.59 C199.67,306.13 199.83,303.89 203.48,302.91 C207.13,301.93 213,302.81 217.76,302.72 C222.52,302.62 226.8,302.47 232.04,302.34 C237.28,302.21 244.74,302.02 249.18,301.96 C253.62,301.9 257.11,301.96 258.7,301.96" fill="none" stroke="#e08a1e" stroke-width="2.5" stroke-linecap="round" stroke-dasharray="0 4.9"/>
<path d="M54,263.9 C55.11,266.42 58.28,274.28 60.66,279.05 C63.04,283.81 65.9,288.8 68.28,292.49 C70.66,296.19 72.57,298.65 74.95,301.2 C77.33,303.76 80.18,305.97 82.56,307.83 C84.94,309.69 87.01,311.02 89.23,312.38 C91.45,313.73 94.46,315.28 95.89,315.98 C97.32,316.67 96.53,316.13 97.8,316.54 C99.07,316.95 100.18,317.93 103.51,318.44 C106.84,318.94 114.3,319.35 117.79,319.57 C121.28,319.79 120.96,319.64 124.45,319.76 C127.95,319.89 133.98,320.2 138.74,320.33 C143.5,320.46 148.26,320.49 153.02,320.52 C157.78,320.55 162.7,321.85 167.3,320.52 C171.9,319.19 175.87,315.22 180.63,312.57 C185.39,309.92 192.05,306.95 195.86,304.61 C199.67,302.28 199.83,299.78 203.48,298.55 C207.13,297.32 213,297.51 217.76,297.23 C222.52,296.94 226.8,297.01 232.04,296.85 C237.28,296.69 244.74,296.47 249.18,296.28 C253.62,296.09 257.11,295.81 258.7,295.71" fill="none" stroke="#1f3a80" stroke-width="1.8"/>
<path d="M60.66,276.95 l1.7,2.1 l-1.7,2.1 l-1.7,-2.1 z" fill="#9aaa9a" stroke="#2e6a3a" stroke-width="0.9"/>
<path d="M68.28,290.39 l1.7,2.1 l-1.7,2.1 l-1.7,-2.1 z" fill="#9aaa9a" stroke="#2e6a3a" stroke-width="0.9"/>
<path d="M74.95,299.1 l1.7,2.1 l-1.7,2.1 l-1.7,-2.1 z" fill="#9aaa9a" stroke="#2e6a3a" stroke-width="0.9"/>
<path d="M82.56,305.73 l1.7,2.1 l-1.7,2.1 l-1.7,-2.1 z" fill="#9aaa9a" stroke="#2e6a3a" stroke-width="0.9"/>
<path d="M89.23,310.28 l1.7,2.1 l-1.7,2.1 l-1.7,-2.1 z" fill="#9aaa9a" stroke="#2e6a3a" stroke-width="0.9"/>
<path d="M95.89,313.88 l1.7,2.1 l-1.7,2.1 l-1.7,-2.1 z" fill="#9aaa9a" stroke="#2e6a3a" stroke-width="0.9"/>
<path d="M97.8,314.44 l1.7,2.1 l-1.7,2.1 l-1.7,-2.1 z" fill="#9aaa9a" stroke="#2e6a3a" stroke-width="0.9"/>
<path d="M103.51,316.34 l1.7,2.1 l-1.7,2.1 l-1.7,-2.1 z" fill="#9aaa9a" stroke="#2e6a3a" stroke-width="0.9"/>
<path d="M117.79,317.47 l1.7,2.1 l-1.7,2.1 l-1.7,-2.1 z" fill="#9aaa9a" stroke="#2e6a3a" stroke-width="0.9"/>
<path d="M124.45,317.66 l1.7,2.1 l-1.7,2.1 l-1.7,-2.1 z" fill="#9aaa9a" stroke="#2e6a3a" stroke-width="0.9"/>
<path d="M138.74,318.23 l1.7,2.1 l-1.7,2.1 l-1.7,-2.1 z" fill="#9aaa9a" stroke="#2e6a3a" stroke-width="0.9"/>
<path d="M153.02,318.42 l1.7,2.1 l-1.7,2.1 l-1.7,-2.1 z" fill="#9aaa9a" stroke="#2e6a3a" stroke-width="0.9"/>
<path d="M167.3,318.42 l1.7,2.1 l-1.7,2.1 l-1.7,-2.1 z" fill="#9aaa9a" stroke="#2e6a3a" stroke-width="0.9"/>
<path d="M180.63,310.47 l1.7,2.1 l-1.7,2.1 l-1.7,-2.1 z" fill="#9aaa9a" stroke="#2e6a3a" stroke-width="0.9"/>
<path d="M195.86,302.51 l1.7,2.1 l-1.7,2.1 l-1.7,-2.1 z" fill="#9aaa9a" stroke="#2e6a3a" stroke-width="0.9"/>
<path d="M203.48,296.45 l1.7,2.1 l-1.7,2.1 l-1.7,-2.1 z" fill="#9aaa9a" stroke="#2e6a3a" stroke-width="0.9"/>
<path d="M217.76,295.13 l1.7,2.1 l-1.7,2.1 l-1.7,-2.1 z" fill="#9aaa9a" stroke="#2e6a3a" stroke-width="0.9"/>
<path d="M232.04,294.75 l1.7,2.1 l-1.7,2.1 l-1.7,-2.1 z" fill="#9aaa9a" stroke="#2e6a3a" stroke-width="0.9"/>
<path d="M249.18,294.18 l1.7,2.1 l-1.7,2.1 l-1.7,-2.1 z" fill="#9aaa9a" stroke="#2e6a3a" stroke-width="0.9"/>
<path d="M54,263.9 C55.11,266.11 58.28,273.21 60.66,277.15 C63.04,281.1 65.9,284.57 68.28,287.57 C70.66,290.57 72.57,292.78 74.95,295.14 C77.33,297.51 80.18,299.88 82.56,301.77 C84.94,303.67 87.01,305.09 89.23,306.51 C91.45,307.93 94.46,309.5 95.89,310.29 C97.32,311.08 96.53,310.77 97.8,311.24 C99.07,311.71 100.18,312.66 103.51,313.13 C106.84,313.61 114.3,313.86 117.79,314.08 C121.28,314.3 120.96,314.3 124.45,314.46 C127.95,314.62 133.98,314.87 138.74,315.03 C143.5,315.19 148.26,315.31 153.02,315.41 C157.78,315.5 162.7,316.39 167.3,315.6 C171.9,314.81 175.87,313.07 180.63,310.67 C185.39,308.27 192.05,303.86 195.86,301.2 C199.67,298.55 199.83,296 203.48,294.76 C207.13,293.53 213,294.1 217.76,293.82 C222.52,293.53 226.8,293.28 232.04,293.06 C237.28,292.84 244.74,292.68 249.18,292.49 C253.62,292.3 257.11,292.02 258.7,291.92" fill="none" stroke="#2ef02e" stroke-width="2" stroke-dasharray="5 3"/>
<path d="M54,263.9 C55.11,266.26 58.28,274 60.66,278.1 C63.04,282.2 65.9,285.68 68.28,288.52 C70.66,291.36 72.57,292.93 74.95,295.14 C77.33,297.35 80.18,299.97 82.56,301.77 C84.94,303.57 87.01,304.77 89.23,305.94 C91.45,307.11 94.46,308.18 95.89,308.78 C97.32,309.38 96.53,309.13 97.8,309.54 C99.07,309.95 100.18,310.74 103.51,311.24 C106.84,311.75 114.3,312.31 117.79,312.57 C121.28,312.82 120.96,312.66 124.45,312.76 C127.95,312.85 133.98,313.01 138.74,313.13 C143.5,313.26 148.26,313.36 153.02,313.51 C157.78,313.67 162.7,315.25 167.3,314.08 C171.9,312.91 175.87,309.13 180.63,306.51 C185.39,303.89 192.05,300.6 195.86,298.36 C199.67,296.12 199.83,294.1 203.48,293.06 C207.13,292.02 213,292.37 217.76,292.11 C222.52,291.86 226.8,291.73 232.04,291.55 C237.28,291.36 244.74,291.14 249.18,290.98 C253.62,290.82 257.11,290.66 258.7,290.6" fill="none" stroke="#2d5a96" stroke-width="1.8"/>
<path d="M54,263.9 C55.11,265.79 58.28,271.79 60.66,275.26 C63.04,278.73 65.9,282.01 68.28,284.73 C70.66,287.44 72.57,289.56 74.95,291.55 C77.33,293.53 80.18,295.18 82.56,296.66 C84.94,298.14 87.01,299.44 89.23,300.45 C91.45,301.46 94.46,302.25 95.89,302.72 C97.32,303.19 96.53,302.91 97.8,303.29 C99.07,303.67 100.18,304.39 103.51,304.99 C106.84,305.59 114.3,306.51 117.79,306.88 C121.28,307.26 120.96,307.07 124.45,307.26 C127.95,307.45 133.98,307.8 138.74,308.02 C143.5,308.24 148.26,308.49 153.02,308.59 C157.78,308.68 162.7,309.38 167.3,308.59 C171.9,307.8 175.87,305.69 180.63,303.86 C185.39,302.02 192.05,299.5 195.86,297.61 C199.67,295.71 199.83,293.47 203.48,292.49 C207.13,291.51 213,291.96 217.76,291.74 C222.52,291.51 226.8,291.36 232.04,291.17 C237.28,290.98 244.74,290.76 249.18,290.6 C253.62,290.44 257.11,290.28 258.7,290.22" fill="none" stroke="#c8561a" stroke-width="2" stroke-dasharray="4.4 2.5"/>
<line x1="54" y1="274.31" x2="258.7" y2="274.31" stroke="#ff3b3b" stroke-width="1.8"/>
<line x1="54" y1="312.19" x2="258.7" y2="312.19" stroke="#1f9a2a" stroke-width="1.8"/>
</g>
<path d="M54,217.5 H258.7 V369" fill="none" stroke="#000" stroke-width="1.5"/>
<path d="M54,216.7 V369 H259.5" fill="none" stroke="#000" stroke-width="1.6"/>
<line x1="50.5" y1="369" x2="54" y2="369" stroke="#000" stroke-width="1.5"/>
<line x1="50.5" y1="340.59" x2="54" y2="340.59" stroke="#000" stroke-width="1.5"/>
<line x1="50.5" y1="312.19" x2="54" y2="312.19" stroke="#000" stroke-width="1.5"/>
<line x1="50.5" y1="283.78" x2="54" y2="283.78" stroke="#000" stroke-width="1.5"/>
<line x1="50.5" y1="255.38" x2="54" y2="255.38" stroke="#000" stroke-width="1.5"/>
<line x1="50.5" y1="226.97" x2="54" y2="226.97" stroke="#000" stroke-width="1.5"/>
<line x1="54" y1="369" x2="54" y2="372.2" stroke="#000" stroke-width="1.5"/>
<line x1="101.6" y1="369" x2="101.6" y2="372.2" stroke="#000" stroke-width="1.5"/>
<line x1="149.21" y1="369" x2="149.21" y2="372.2" stroke="#000" stroke-width="1.5"/>
<line x1="196.81" y1="369" x2="196.81" y2="372.2" stroke="#000" stroke-width="1.5"/>
<line x1="244.42" y1="369" x2="244.42" y2="372.2" stroke="#000" stroke-width="1.5"/>
<g font-family="Liberation Sans, sans-serif" font-weight="bold" font-size="10.5" fill="#000"><text x="44.4" y="372.8" text-anchor="end">1</text><text x="44.4" y="344.39" text-anchor="end">2.5</text><text x="44.4" y="315.99" text-anchor="end">4</text><text x="44.4" y="287.58" text-anchor="end">5.5</text><text x="44.4" y="259.18" text-anchor="end">7</text><text x="44.4" y="230.77" text-anchor="end">8.5</text><text x="54" y="386" text-anchor="middle">0</text><text x="101.6" y="386" text-anchor="middle">50</text><text x="149.21" y="386" text-anchor="middle">100</text><text x="196.81" y="386" text-anchor="middle">150</text><text x="244.42" y="386" text-anchor="middle">200</text></g>
<text x="156.85" y="400.6" text-anchor="middle" font-family="Liberation Serif, serif" font-weight="bold" font-size="14">Profile (km)</text>
<text x="121.9" y="417.3" text-anchor="middle" font-family="Liberation Serif, serif" font-size="13" stroke="#000" stroke-width="0.25">(c)</text>
<text transform="translate(14.6,279.9) rotate(-90)" text-anchor="middle" font-family="Liberation Serif, serif" font-weight="bold" font-size="14">DO (mg/L)</text>
<line x1="64.5" y1="224.8" x2="75" y2="224.8" stroke="#3333ff" stroke-width="1.7"/>
<circle cx="69.75" cy="224.8" r="1.45" fill="#a8c8f0" stroke="#3333ff" stroke-width="0.9"/>
<line x1="130.9" y1="224.8" x2="141.4" y2="224.8" stroke="#ff00ff" stroke-width="1.7"/>
<circle cx="136.15" cy="224.8" r="1.8" fill="#ffffb0" stroke="#ff00ff" stroke-width="0.9"/>
<line x1="196.4" y1="224.8" x2="206.9" y2="224.8" stroke="#8c8c8c" stroke-width="1.7"/>
<path d="M201.65,222.8 l1.9,3.2 h-3.8 z" fill="#e8e8e8" stroke="#8c8c8c" stroke-width="0.8"/>
<line x1="66" y1="237.4" x2="75" y2="237.4" stroke="#e08a1e" stroke-width="2.5" stroke-linecap="round" stroke-dasharray="0 4.8"/>
<line x1="130.9" y1="237.4" x2="141.4" y2="237.4" stroke="#1f3a80" stroke-width="1.7"/>
<path d="M136.15,235.3 l1.7,2.1 l-1.7,2.1 l-1.7,-2.1 z" fill="#9aaa9a" stroke="#2e6a3a" stroke-width="0.9"/>
<line x1="196.7" y1="237.4" x2="201.7" y2="237.4" stroke="#2ef02e" stroke-width="2"/>
<line x1="64.5" y1="249.5" x2="75" y2="249.5" stroke="#2d5a96" stroke-width="1.7"/>
<line x1="131.7" y1="249.5" x2="141.4" y2="249.5" stroke="#c8561a" stroke-width="2" stroke-dasharray="4.2 2.2"/>
<line x1="196.4" y1="249.5" x2="206.9" y2="249.5" stroke="#ff3b3b" stroke-width="1.8"/>
<line x1="64.5" y1="261.5" x2="75" y2="261.5" stroke="#1f9a2a" stroke-width="1.8"/>
<g font-family="Liberation Sans, sans-serif" font-weight="bold" font-size="8.5" fill="#000"><text x="75.6" y="227.9">Current</text><text x="142" y="227.9">S1</text><text x="207.5" y="227.9">S2</text><text x="75.6" y="240.5">S3</text><text x="142" y="240.5">S4</text><text x="207.5" y="240.5">S5</text><text x="75.6" y="252.6">S6</text><text x="142" y="252.6">S7</text><text x="207.5" y="252.6">Class AA</text><text x="75.6" y="264.6">Class A</text></g>
<clipPath id="clipd"><rect x="340.5" y="217.8" width="204.7" height="150.8"/></clipPath>
<g clip-path="url(#clipd)">
<path d="M340.5,354.58 C341.61,355.08 344.78,357.23 347.16,357.59 C349.54,357.95 352.4,361.24 354.78,356.72 C357.16,352.21 359.07,336.27 361.45,330.52 C363.83,324.77 366.68,323.55 369.06,322.23 C371.44,320.91 373.51,322.35 375.73,322.61 C377.95,322.86 380.96,323.93 382.39,323.74 C383.82,323.55 383.03,322.17 384.3,321.48 C385.57,320.78 386.68,320.41 390.01,319.59 C393.34,318.77 400.8,316.95 404.29,316.57 C407.78,316.2 407.46,318.14 410.95,317.33 C414.45,316.51 420.48,312.99 425.24,311.67 C430,310.35 434.76,311.3 439.52,309.41 C444.28,307.53 449.2,303.66 453.8,300.36 C458.4,297.06 462.37,285.16 467.13,289.62 C471.89,294.08 478.55,319.24 482.36,327.13 C486.17,335.02 486.33,335.39 489.98,336.93 C493.63,338.47 499.5,336.93 504.26,336.37 C509.02,335.8 513.3,334.01 518.54,333.54 C523.78,333.07 531.24,333.54 535.68,333.54 C540.12,333.54 543.61,333.54 545.2,333.54" fill="none" stroke="#3333ff" stroke-width="2.0"/>
<circle cx="347.16" cy="357.59" r="1.45" fill="#a8c8f0" stroke="#3333ff" stroke-width="0.9"/>
<circle cx="354.78" cy="356.72" r="1.45" fill="#a8c8f0" stroke="#3333ff" stroke-width="0.9"/>
<circle cx="361.45" cy="330.52" r="1.45" fill="#a8c8f0" stroke="#3333ff" stroke-width="0.9"/>
<circle cx="369.06" cy="322.23" r="1.45" fill="#a8c8f0" stroke="#3333ff" stroke-width="0.9"/>
<circle cx="375.73" cy="322.61" r="1.45" fill="#a8c8f0" stroke="#3333ff" stroke-width="0.9"/>
<circle cx="382.39" cy="323.74" r="1.45" fill="#a8c8f0" stroke="#3333ff" stroke-width="0.9"/>
<circle cx="384.3" cy="321.48" r="1.45" fill="#a8c8f0" stroke="#3333ff" stroke-width="0.9"/>
<circle cx="390.01" cy="319.59" r="1.45" fill="#a8c8f0" stroke="#3333ff" stroke-width="0.9"/>
<circle cx="404.29" cy="316.57" r="1.45" fill="#a8c8f0" stroke="#3333ff" stroke-width="0.9"/>
<circle cx="410.95" cy="317.33" r="1.45" fill="#a8c8f0" stroke="#3333ff" stroke-width="0.9"/>
<circle cx="425.24" cy="311.67" r="1.45" fill="#a8c8f0" stroke="#3333ff" stroke-width="0.9"/>
<circle cx="439.52" cy="309.41" r="1.45" fill="#a8c8f0" stroke="#3333ff" stroke-width="0.9"/>
<circle cx="453.8" cy="300.36" r="1.45" fill="#a8c8f0" stroke="#3333ff" stroke-width="0.9"/>
<circle cx="467.13" cy="289.62" r="1.45" fill="#a8c8f0" stroke="#3333ff" stroke-width="0.9"/>
<circle cx="482.36" cy="327.13" r="1.45" fill="#a8c8f0" stroke="#3333ff" stroke-width="0.9"/>
<circle cx="489.98" cy="336.93" r="1.45" fill="#a8c8f0" stroke="#3333ff" stroke-width="0.9"/>
<circle cx="504.26" cy="336.37" r="1.45" fill="#a8c8f0" stroke="#3333ff" stroke-width="0.9"/>
<circle cx="518.54" cy="333.54" r="1.45" fill="#a8c8f0" stroke="#3333ff" stroke-width="0.9"/>
<circle cx="535.68" cy="333.54" r="1.45" fill="#a8c8f0" stroke="#3333ff" stroke-width="0.9"/>
<path d="M340.5,354.58 C341.61,355.08 344.78,357.23 347.16,357.59 C349.54,357.95 352.4,360.73 354.78,356.72 C357.16,352.72 359.07,338.41 361.45,333.54 C363.83,328.67 366.68,328.51 369.06,327.51 C371.44,326.5 373.51,327.38 375.73,327.51 C377.95,327.63 380.96,328.32 382.39,328.26 C383.82,328.2 383.03,327.63 384.3,327.13 C385.57,326.63 386.68,326.12 390.01,325.25 C393.34,324.37 400.8,322.35 404.29,321.85 C407.78,321.35 407.46,322.92 410.95,322.23 C414.45,321.54 420.48,318.9 425.24,317.71 C430,316.51 434.76,316.83 439.52,315.07 C444.28,313.31 449.2,310.04 453.8,307.15 C458.4,304.26 462.37,294.27 467.13,297.72 C471.89,301.18 478.55,321.29 482.36,327.88 C486.17,334.48 486.33,335.86 489.98,337.31 C493.63,338.75 499.5,337.12 504.26,336.56 C509.02,335.99 513.3,334.36 518.54,333.92 C523.78,333.48 531.24,333.92 535.68,333.92 C540.12,333.92 543.61,333.92 545.2,333.92" fill="none" stroke="#ff00ff" stroke-width="2.0"/>
<circle cx="347.16" cy="357.59" r="1.8" fill="#ffffb0" stroke="#ff00ff" stroke-width="0.9"/>
<circle cx="354.78" cy="356.72" r="1.8" fill="#ffffb0" stroke="#ff00ff" stroke-width="0.9"/>
<circle cx="361.45" cy="333.54" r="1.8" fill="#ffffb0" stroke="#ff00ff" stroke-width="0.9"/>
<circle cx="369.06" cy="327.51" r="1.8" fill="#ffffb0" stroke="#ff00ff" stroke-width="0.9"/>
<circle cx="375.73" cy="327.51" r="1.8" fill="#ffffb0" stroke="#ff00ff" stroke-width="0.9"/>
<circle cx="382.39" cy="328.26" r="1.8" fill="#ffffb0" stroke="#ff00ff" stroke-width="0.9"/>
<circle cx="384.3" cy="327.13" r="1.8" fill="#ffffb0" stroke="#ff00ff" stroke-width="0.9"/>
<circle cx="390.01" cy="325.25" r="1.8" fill="#ffffb0" stroke="#ff00ff" stroke-width="0.9"/>
<circle cx="404.29" cy="321.85" r="1.8" fill="#ffffb0" stroke="#ff00ff" stroke-width="0.9"/>
<circle cx="410.95" cy="322.23" r="1.8" fill="#ffffb0" stroke="#ff00ff" stroke-width="0.9"/>
<circle cx="425.24" cy="317.71" r="1.8" fill="#ffffb0" stroke="#ff00ff" stroke-width="0.9"/>
<circle cx="439.52" cy="315.07" r="1.8" fill="#ffffb0" stroke="#ff00ff" stroke-width="0.9"/>
<circle cx="453.8" cy="307.15" r="1.8" fill="#ffffb0" stroke="#ff00ff" stroke-width="0.9"/>
<circle cx="467.13" cy="297.72" r="1.8" fill="#ffffb0" stroke="#ff00ff" stroke-width="0.9"/>
<circle cx="482.36" cy="327.88" r="1.8" fill="#ffffb0" stroke="#ff00ff" stroke-width="0.9"/>
<circle cx="489.98" cy="337.31" r="1.8" fill="#ffffb0" stroke="#ff00ff" stroke-width="0.9"/>
<circle cx="504.26" cy="336.56" r="1.8" fill="#ffffb0" stroke="#ff00ff" stroke-width="0.9"/>
<circle cx="518.54" cy="333.92" r="1.8" fill="#ffffb0" stroke="#ff00ff" stroke-width="0.9"/>
<circle cx="535.68" cy="333.92" r="1.8" fill="#ffffb0" stroke="#ff00ff" stroke-width="0.9"/>
<path d="M340.5,354.58 C341.61,355.08 344.78,357.23 347.16,357.59 C349.54,357.95 352.4,360.36 354.78,356.72 C357.16,353.09 359.07,339.85 361.45,335.8 C363.83,331.75 366.68,332.97 369.06,332.41 C371.44,331.84 373.51,332.35 375.73,332.41 C377.95,332.47 380.96,332.91 382.39,332.79 C383.82,332.66 383.03,332.09 384.3,331.65 C385.57,331.21 386.68,330.9 390.01,330.15 C393.34,329.39 400.8,327.63 404.29,327.13 C407.78,326.63 407.46,327.63 410.95,327.13 C414.45,326.63 420.48,325.06 425.24,324.11 C430,323.17 434.76,323.23 439.52,321.48 C444.28,319.72 449.2,316.39 453.8,313.56 C458.4,310.73 462.37,301.68 467.13,304.51 C471.89,307.34 478.55,324.24 482.36,330.52 C486.17,336.81 486.33,340.26 489.98,342.21 C493.63,344.16 499.5,342.65 504.26,342.21 C509.02,341.77 513.3,340.01 518.54,339.57 C523.78,339.13 531.24,339.57 535.68,339.57 C540.12,339.57 543.61,339.57 545.2,339.57" fill="none" stroke="#8c8c8c" stroke-width="1.8"/>
<path d="M347.16,355.59 l1.9,3.2 h-3.8 z" fill="#e8e8e8" stroke="#8c8c8c" stroke-width="0.8"/>
<path d="M354.78,354.72 l1.9,3.2 h-3.8 z" fill="#e8e8e8" stroke="#8c8c8c" stroke-width="0.8"/>
<path d="M361.45,333.8 l1.9,3.2 h-3.8 z" fill="#e8e8e8" stroke="#8c8c8c" stroke-width="0.8"/>
<path d="M369.06,330.41 l1.9,3.2 h-3.8 z" fill="#e8e8e8" stroke="#8c8c8c" stroke-width="0.8"/>
<path d="M375.73,330.41 l1.9,3.2 h-3.8 z" fill="#e8e8e8" stroke="#8c8c8c" stroke-width="0.8"/>
<path d="M382.39,330.79 l1.9,3.2 h-3.8 z" fill="#e8e8e8" stroke="#8c8c8c" stroke-width="0.8"/>
<path d="M384.3,329.65 l1.9,3.2 h-3.8 z" fill="#e8e8e8" stroke="#8c8c8c" stroke-width="0.8"/>
<path d="M390.01,328.15 l1.9,3.2 h-3.8 z" fill="#e8e8e8" stroke="#8c8c8c" stroke-width="0.8"/>
<path d="M404.29,325.13 l1.9,3.2 h-3.8 z" fill="#e8e8e8" stroke="#8c8c8c" stroke-width="0.8"/>
<path d="M410.95,325.13 l1.9,3.2 h-3.8 z" fill="#e8e8e8" stroke="#8c8c8c" stroke-width="0.8"/>
<path d="M425.24,322.11 l1.9,3.2 h-3.8 z" fill="#e8e8e8" stroke="#8c8c8c" stroke-width="0.8"/>
<path d="M439.52,319.48 l1.9,3.2 h-3.8 z" fill="#e8e8e8" stroke="#8c8c8c" stroke-width="0.8"/>
<path d="M453.8,311.56 l1.9,3.2 h-3.8 z" fill="#e8e8e8" stroke="#8c8c8c" stroke-width="0.8"/>
<path d="M467.13,302.51 l1.9,3.2 h-3.8 z" fill="#e8e8e8" stroke="#8c8c8c" stroke-width="0.8"/>
<path d="M482.36,328.52 l1.9,3.2 h-3.8 z" fill="#e8e8e8" stroke="#8c8c8c" stroke-width="0.8"/>
<path d="M489.98,340.21 l1.9,3.2 h-3.8 z" fill="#e8e8e8" stroke="#8c8c8c" stroke-width="0.8"/>
<path d="M504.26,340.21 l1.9,3.2 h-3.8 z" fill="#e8e8e8" stroke="#8c8c8c" stroke-width="0.8"/>
<path d="M518.54,337.57 l1.9,3.2 h-3.8 z" fill="#e8e8e8" stroke="#8c8c8c" stroke-width="0.8"/>
<path d="M535.68,337.57 l1.9,3.2 h-3.8 z" fill="#e8e8e8" stroke="#8c8c8c" stroke-width="0.8"/>
<path d="M340.5,354.58 C341.61,355.08 344.78,357.23 347.16,357.59 C349.54,357.95 352.4,359.54 354.78,356.72 C357.16,353.91 359.07,344.57 361.45,340.7 C363.83,336.84 366.68,334.54 369.06,333.54 C371.44,332.53 373.51,334.42 375.73,334.67 C377.95,334.92 380.96,335.11 382.39,335.05 C383.82,334.98 383.03,334.67 384.3,334.29 C385.57,333.92 386.68,333.48 390.01,332.79 C393.34,332.09 400.8,330.59 404.29,330.15 C407.78,329.71 407.46,330.77 410.95,330.15 C414.45,329.52 420.48,327.38 425.24,326.38 C430,325.37 434.76,325.62 439.52,324.11 C444.28,322.61 449.2,319.72 453.8,317.33 C458.4,314.94 462.37,307.21 467.13,309.79 C471.89,312.36 478.55,327.38 482.36,332.79 C486.17,338.19 486.33,340.64 489.98,342.21 C493.63,343.78 499.5,342.65 504.26,342.21 C509.02,341.77 513.3,340.01 518.54,339.57 C523.78,339.13 531.24,339.57 535.68,339.57 C540.12,339.57 543.61,339.57 545.2,339.57" fill="none" stroke="#e08a1e" stroke-width="2.5" stroke-linecap="round" stroke-dasharray="0 4.9"/>
<path d="M340.5,354.58 C341.61,355.08 344.78,357.23 347.16,357.59 C349.54,357.95 352.4,357.89 354.78,356.72 C357.16,355.56 359.07,351.84 361.45,350.58 C363.83,349.32 366.68,349.42 369.06,349.18 C371.44,348.95 373.51,349.15 375.73,349.18 C377.95,349.22 380.96,349.4 382.39,349.37 C383.82,349.34 383.03,349.1 384.3,349 C385.57,348.9 386.68,348.99 390.01,348.77 C393.34,348.55 400.8,347.86 404.29,347.68 C407.78,347.49 407.46,347.83 410.95,347.68 C414.45,347.52 420.48,347.02 425.24,346.73 C430,346.45 434.76,346.55 439.52,345.98 C444.28,345.41 449.2,343.97 453.8,343.34 C458.4,342.71 462.37,341.39 467.13,342.21 C471.89,343.03 478.55,347.24 482.36,348.24 C486.17,349.25 486.33,348.37 489.98,348.24 C493.63,348.12 499.5,347.7 504.26,347.49 C509.02,347.27 513.3,347.09 518.54,346.96 C523.78,346.83 531.24,346.77 535.68,346.73 C540.12,346.7 543.61,346.73 545.2,346.73" fill="none" stroke="#1f3a80" stroke-width="1.8"/>
<path d="M347.16,355.49 l1.7,2.1 l-1.7,2.1 l-1.7,-2.1 z" fill="#9aaa9a" stroke="#2e6a3a" stroke-width="0.9"/>
<path d="M354.78,354.62 l1.7,2.1 l-1.7,2.1 l-1.7,-2.1 z" fill="#9aaa9a" stroke="#2e6a3a" stroke-width="0.9"/>
<path d="M361.45,348.48 l1.7,2.1 l-1.7,2.1 l-1.7,-2.1 z" fill="#9aaa9a" stroke="#2e6a3a" stroke-width="0.9"/>
<path d="M369.06,347.08 l1.7,2.1 l-1.7,2.1 l-1.7,-2.1 z" fill="#9aaa9a" stroke="#2e6a3a" stroke-width="0.9"/>
<path d="M375.73,347.08 l1.7,2.1 l-1.7,2.1 l-1.7,-2.1 z" fill="#9aaa9a" stroke="#2e6a3a" stroke-width="0.9"/>
<path d="M382.39,347.27 l1.7,2.1 l-1.7,2.1 l-1.7,-2.1 z" fill="#9aaa9a" stroke="#2e6a3a" stroke-width="0.9"/>
<path d="M384.3,346.9 l1.7,2.1 l-1.7,2.1 l-1.7,-2.1 z" fill="#9aaa9a" stroke="#2e6a3a" stroke-width="0.9"/>
<path d="M390.01,346.67 l1.7,2.1 l-1.7,2.1 l-1.7,-2.1 z" fill="#9aaa9a" stroke="#2e6a3a" stroke-width="0.9"/>
<path d="M404.29,345.58 l1.7,2.1 l-1.7,2.1 l-1.7,-2.1 z" fill="#9aaa9a" stroke="#2e6a3a" stroke-width="0.9"/>
<path d="M410.95,345.58 l1.7,2.1 l-1.7,2.1 l-1.7,-2.1 z" fill="#9aaa9a" stroke="#2e6a3a" stroke-width="0.9"/>
<path d="M425.24,344.63 l1.7,2.1 l-1.7,2.1 l-1.7,-2.1 z" fill="#9aaa9a" stroke="#2e6a3a" stroke-width="0.9"/>
<path d="M439.52,343.88 l1.7,2.1 l-1.7,2.1 l-1.7,-2.1 z" fill="#9aaa9a" stroke="#2e6a3a" stroke-width="0.9"/>
<path d="M453.8,341.24 l1.7,2.1 l-1.7,2.1 l-1.7,-2.1 z" fill="#9aaa9a" stroke="#2e6a3a" stroke-width="0.9"/>
<path d="M467.13,340.11 l1.7,2.1 l-1.7,2.1 l-1.7,-2.1 z" fill="#9aaa9a" stroke="#2e6a3a" stroke-width="0.9"/>
<path d="M482.36,346.14 l1.7,2.1 l-1.7,2.1 l-1.7,-2.1 z" fill="#9aaa9a" stroke="#2e6a3a" stroke-width="0.9"/>
<path d="M489.98,346.14 l1.7,2.1 l-1.7,2.1 l-1.7,-2.1 z" fill="#9aaa9a" stroke="#2e6a3a" stroke-width="0.9"/>
<path d="M504.26,345.39 l1.7,2.1 l-1.7,2.1 l-1.7,-2.1 z" fill="#9aaa9a" stroke="#2e6a3a" stroke-width="0.9"/>
<path d="M518.54,344.86 l1.7,2.1 l-1.7,2.1 l-1.7,-2.1 z" fill="#9aaa9a" stroke="#2e6a3a" stroke-width="0.9"/>
<path d="M535.68,344.63 l1.7,2.1 l-1.7,2.1 l-1.7,-2.1 z" fill="#9aaa9a" stroke="#2e6a3a" stroke-width="0.9"/>
<path d="M340.5,354.58 C341.61,355.08 344.78,357.23 347.16,357.59 C349.54,357.95 352.4,357.78 354.78,356.72 C357.16,355.67 359.07,352.42 361.45,351.26 C363.83,350.1 366.68,350 369.06,349.75 C371.44,349.5 373.51,349.72 375.73,349.75 C377.95,349.78 380.96,349.97 382.39,349.94 C383.82,349.91 383.03,349.66 384.3,349.56 C385.57,349.47 386.68,349.59 390.01,349.37 C393.34,349.15 400.8,348.43 404.29,348.24 C407.78,348.05 407.46,348.37 410.95,348.24 C414.45,348.12 420.48,347.74 425.24,347.49 C430,347.24 434.76,347.24 439.52,346.73 C444.28,346.23 449.2,345.04 453.8,344.47 C458.4,343.91 462.37,342.46 467.13,343.34 C471.89,344.22 478.55,348.68 482.36,349.75 C486.17,350.82 486.33,349.88 489.98,349.75 C493.63,349.62 499.5,349.15 504.26,349 C509.02,348.84 513.3,348.84 518.54,348.81 C523.78,348.78 531.24,348.81 535.68,348.81 C540.12,348.81 543.61,348.81 545.2,348.81" fill="none" stroke="#2ef02e" stroke-width="2" stroke-dasharray="5 3"/>
<path d="M340.5,354.58 C341.61,355.08 344.78,357.23 347.16,357.59 C349.54,357.95 352.4,357.65 354.78,356.72 C357.16,355.79 359.07,352.99 361.45,352.01 C363.83,351.04 366.68,351.07 369.06,350.88 C371.44,350.69 373.51,350.85 375.73,350.88 C377.95,350.91 380.96,351.1 382.39,351.07 C383.82,351.04 383.03,350.79 384.3,350.69 C385.57,350.6 386.68,350.72 390.01,350.5 C393.34,350.28 400.8,349.56 404.29,349.37 C407.78,349.18 407.46,349.5 410.95,349.37 C414.45,349.25 420.48,348.87 425.24,348.62 C430,348.37 434.76,348.37 439.52,347.87 C444.28,347.36 449.2,346.11 453.8,345.6 C458.4,345.1 462.37,343.84 467.13,344.85 C471.89,345.85 478.55,350.5 482.36,351.63 C486.17,352.77 486.33,351.73 489.98,351.63 C493.63,351.54 499.5,351.18 504.26,351.07 C509.02,350.96 513.3,351.01 518.54,350.99 C523.78,350.98 531.24,350.99 535.68,350.99 C540.12,350.99 543.61,350.99 545.2,350.99" fill="none" stroke="#2d5a96" stroke-width="1.8"/>
<path d="M340.5,354.58 C341.61,355.08 344.78,357.23 347.16,357.59 C349.54,357.95 352.4,357.53 354.78,356.72 C357.16,355.92 359.07,353.58 361.45,352.77 C363.83,351.96 366.68,352.01 369.06,351.86 C371.44,351.71 373.51,351.84 375.73,351.86 C377.95,351.89 380.96,352.02 382.39,352.01 C383.82,352.01 383.03,351.85 384.3,351.82 C385.57,351.8 386.68,351.96 390.01,351.86 C393.34,351.77 400.8,351.36 404.29,351.26 C407.78,351.16 407.46,351.45 410.95,351.26 C414.45,351.07 420.48,350.44 425.24,350.13 C430,349.81 434.76,349.69 439.52,349.37 C444.28,349.06 449.2,348.62 453.8,348.24 C458.4,347.87 462.37,346.42 467.13,347.11 C471.89,347.8 478.55,351.7 482.36,352.39 C486.17,353.08 486.33,351.57 489.98,351.26 C493.63,350.94 499.5,350.72 504.26,350.5 C509.02,350.29 513.3,350.06 518.54,349.98 C523.78,349.89 531.24,349.98 535.68,349.98 C540.12,349.98 543.61,349.98 545.2,349.98" fill="none" stroke="#c8561a" stroke-width="2" stroke-dasharray="4.4 2.5"/>
<line x1="340.5" y1="330.9" x2="545.2" y2="330.9" stroke="#ff3b3b" stroke-width="1.8"/>
</g>
<path d="M340.5,217.8 H545.2 V368.6" fill="none" stroke="#000" stroke-width="1.5"/>
<path d="M340.5,217 V368.6 H546" fill="none" stroke="#000" stroke-width="1.6"/>
<line x1="337" y1="368.6" x2="340.5" y2="368.6" stroke="#000" stroke-width="1.5"/>
<line x1="337" y1="338.44" x2="340.5" y2="338.44" stroke="#000" stroke-width="1.5"/>
<line x1="337" y1="308.28" x2="340.5" y2="308.28" stroke="#000" stroke-width="1.5"/>
<line x1="337" y1="278.12" x2="340.5" y2="278.12" stroke="#000" stroke-width="1.5"/>
<line x1="337" y1="247.96" x2="340.5" y2="247.96" stroke="#000" stroke-width="1.5"/>
<line x1="337" y1="217.8" x2="340.5" y2="217.8" stroke="#000" stroke-width="1.5"/>
<line x1="340.5" y1="368.6" x2="340.5" y2="371.8" stroke="#000" stroke-width="1.5"/>
<line x1="388.1" y1="368.6" x2="388.1" y2="371.8" stroke="#000" stroke-width="1.5"/>
<line x1="435.71" y1="368.6" x2="435.71" y2="371.8" stroke="#000" stroke-width="1.5"/>
<line x1="483.31" y1="368.6" x2="483.31" y2="371.8" stroke="#000" stroke-width="1.5"/>
<line x1="530.92" y1="368.6" x2="530.92" y2="371.8" stroke="#000" stroke-width="1.5"/>
<g font-family="Liberation Sans, sans-serif" font-weight="bold" font-size="10.5" fill="#000"><text x="330.9" y="372.4" text-anchor="end">0</text><text x="330.9" y="342.24" text-anchor="end">8</text><text x="330.9" y="312.08" text-anchor="end">16</text><text x="330.9" y="281.92" text-anchor="end">24</text><text x="330.9" y="251.76" text-anchor="end">32</text><text x="330.9" y="221.6" text-anchor="end">40</text><text x="340.5" y="385.6" text-anchor="middle">0</text><text x="388.1" y="385.6" text-anchor="middle">50</text><text x="435.71" y="385.6" text-anchor="middle">100</text><text x="483.31" y="385.6" text-anchor="middle">150</text><text x="530.92" y="385.6" text-anchor="middle">200</text></g>
<text x="443.35" y="400.2" text-anchor="middle" font-family="Liberation Serif, serif" font-weight="bold" font-size="14">Profile (km)</text>
<text x="408.4" y="416.9" text-anchor="middle" font-family="Liberation Serif, serif" font-size="13" stroke="#000" stroke-width="0.25">(d)</text>
<text transform="translate(301.1,290.25) rotate(-90)" text-anchor="middle" font-family="Liberation Serif, serif" font-weight="bold" font-size="14.4">NO<tspan font-size="8.5" dy="0.3">3</tspan><tspan dy="-0.3">-N (mg/L)</tspan></text>
<line x1="350.8" y1="227.2" x2="361.3" y2="227.2" stroke="#3333ff" stroke-width="1.7"/>
<circle cx="356.05" cy="227.2" r="1.45" fill="#a8c8f0" stroke="#3333ff" stroke-width="0.9"/>
<line x1="416.8" y1="227.2" x2="427.3" y2="227.2" stroke="#ff00ff" stroke-width="1.7"/>
<circle cx="422.05" cy="227.2" r="1.8" fill="#ffffb0" stroke="#ff00ff" stroke-width="0.9"/>
<line x1="482.2" y1="227.2" x2="492.7" y2="227.2" stroke="#8c8c8c" stroke-width="1.7"/>
<path d="M487.45,225.2 l1.9,3.2 h-3.8 z" fill="#e8e8e8" stroke="#8c8c8c" stroke-width="0.8"/>
<line x1="352.3" y1="243.5" x2="361.3" y2="243.5" stroke="#e08a1e" stroke-width="2.5" stroke-linecap="round" stroke-dasharray="0 4.8"/>
<line x1="416.8" y1="243.5" x2="427.3" y2="243.5" stroke="#1f3a80" stroke-width="1.7"/>
<path d="M422.05,241.4 l1.7,2.1 l-1.7,2.1 l-1.7,-2.1 z" fill="#9aaa9a" stroke="#2e6a3a" stroke-width="0.9"/>
<line x1="482.5" y1="243.5" x2="487.5" y2="243.5" stroke="#2ef02e" stroke-width="2"/>
<line x1="350.8" y1="259.6" x2="361.3" y2="259.6" stroke="#2d5a96" stroke-width="1.7"/>
<line x1="417.6" y1="259.6" x2="427.3" y2="259.6" stroke="#c8561a" stroke-width="2" stroke-dasharray="4.2 2.2"/>
<line x1="482.2" y1="259.6" x2="492.7" y2="259.6" stroke="#ff3b3b" stroke-width="1.8"/>
<g font-family="Liberation Sans, sans-serif" font-weight="bold" font-size="8.5" fill="#000"><text x="361.9" y="230.3">Current</text><text x="427.9" y="230.3">S1</text><text x="493.3" y="230.3">S2</text><text x="361.9" y="246.6">S3</text><text x="427.9" y="246.6">S4</text><text x="493.3" y="246.6">S5</text><text x="361.9" y="262.7">S6</text><text x="427.9" y="262.7">S7</text><text x="493.3" y="262.7">Class AA</text></g>
</svg></body></html>
